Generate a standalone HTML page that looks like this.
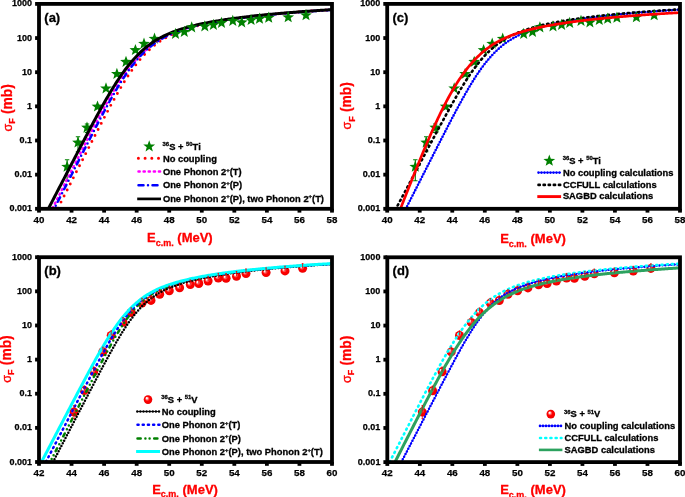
<!DOCTYPE html><html><head><meta charset="utf-8"><style>html,body{margin:0;padding:0;background:#fff;overflow:hidden}svg{display:block}text{font-family:"Liberation Sans",Arial,sans-serif;font-weight:bold}</style></head><body>
<svg width="685" height="497" viewBox="0 0 685 497">
<defs><radialGradient id="rb" cx="0.5" cy="0.5" r="0.5" fx="0.33" fy="0.3" fr="0"><stop offset="0" stop-color="#ffffff"/><stop offset="0.15" stop-color="#fff0f0"/><stop offset="0.35" stop-color="#ff6060"/><stop offset="0.55" stop-color="#ff0000"/><stop offset="0.9" stop-color="#f40000"/><stop offset="1" stop-color="#e40000"/></radialGradient>
<clipPath id="clipa"><rect x="39.0" y="3.9" width="293.0" height="204.9"/></clipPath>
<clipPath id="clipc"><rect x="387.2" y="3.9" width="292.8" height="204.9"/></clipPath>
<clipPath id="clipb"><rect x="39.0" y="257.2" width="293.0" height="204.8"/></clipPath>
<clipPath id="clipd"><rect x="387.3" y="257.3" width="292.7" height="204.8"/></clipPath>
</defs><rect width="685" height="497" fill="#fff"/>
<path d="M67.1,159.7 V180.8 M64.9,159.7 h4.4 M64.9,180.8 h4.4" stroke="#008000" stroke-width="1.1" fill="none"/>
<polygon points="67.10,160.60 68.63,164.69 73.00,164.88 69.58,167.60 70.74,171.82 67.10,169.40 63.46,171.82 64.62,167.60 61.20,164.88 65.57,164.69" fill="#008000"/>
<path d="M78.0,136.7 V151.7 M75.8,136.7 h4.4 M75.8,151.7 h4.4" stroke="#008000" stroke-width="1.1" fill="none"/>
<polygon points="78.00,136.40 79.53,140.49 83.90,140.68 80.48,143.40 81.64,147.62 78.00,145.20 74.36,147.62 75.52,143.40 72.10,140.68 76.47,140.49" fill="#008000"/>
<path d="M87.0,124 V132.5 M84.8,124 h4.4 M84.8,132.5 h4.4" stroke="#008000" stroke-width="1.1" fill="none"/>
<polygon points="87.00,121.50 88.53,125.59 92.90,125.78 89.48,128.50 90.64,132.72 87.00,130.30 83.36,132.72 84.52,128.50 81.10,125.78 85.47,125.59" fill="#008000"/>
<polygon points="97.50,100.40 99.03,104.49 103.40,104.68 99.98,107.40 101.14,111.62 97.50,109.20 93.86,111.62 95.02,107.40 91.60,104.68 95.97,104.49" fill="#008000"/>
<polygon points="106.00,82.30 107.53,86.39 111.90,86.58 108.48,89.30 109.64,93.52 106.00,91.10 102.36,93.52 103.52,89.30 100.10,86.58 104.47,86.39" fill="#008000"/>
<polygon points="116.90,67.80 118.43,71.89 122.80,72.08 119.38,74.80 120.54,79.02 116.90,76.60 113.26,79.02 114.42,74.80 111.00,72.08 115.37,71.89" fill="#008000"/>
<polygon points="126.00,55.70 127.53,59.79 131.90,59.98 128.48,62.70 129.64,66.92 126.00,64.50 122.36,66.92 123.52,62.70 120.10,59.98 124.47,59.79" fill="#008000"/>
<polygon points="135.40,43.90 136.93,47.99 141.30,48.18 137.88,50.90 139.04,55.12 135.40,52.70 131.76,55.12 132.92,50.90 129.50,48.18 133.87,47.99" fill="#008000"/>
<polygon points="144.00,37.60 145.53,41.69 149.90,41.88 146.48,44.60 147.64,48.82 144.00,46.40 140.36,48.82 141.52,44.60 138.10,41.88 142.47,41.69" fill="#008000"/>
<polygon points="154.50,32.60 156.03,36.69 160.40,36.88 156.98,39.60 158.14,43.82 154.50,41.40 150.86,43.82 152.02,39.60 148.60,36.88 152.97,36.69" fill="#008000"/>
<path d="M54.84,214.23 L55.97,212.01 L57.10,209.79 L58.23,207.56 L59.36,205.34 L60.49,203.12 L61.63,200.90 L62.76,198.68 L63.89,196.45 L65.02,194.23 L66.15,192.01 L67.28,189.79 L68.41,187.56 L69.54,185.34 L70.68,183.12 L71.81,180.90 L72.94,178.68 L74.07,176.45 L75.20,174.23 L76.33,172.01 L77.46,169.79 L78.59,167.57 L79.73,165.35 L80.86,163.13 L81.99,160.91 L83.12,158.69 L84.25,156.48 L85.38,154.26 L86.51,152.05 L87.64,149.83 L88.78,147.62 L89.91,145.41 L91.04,143.20 L92.17,140.99 L93.30,138.79 L94.43,136.58 L95.56,134.38 L96.69,132.19 L97.83,130.00 L98.96,127.81 L100.09,125.63 L101.22,123.45 L102.35,121.28 L103.48,119.12 L104.61,116.97 L105.75,114.82 L106.88,112.68 L108.01,110.56 L109.14,108.44 L110.27,106.34 L111.40,104.26 L112.53,102.18 L113.66,100.13 L114.80,98.09 L115.93,96.07 L117.06,94.07 L118.19,92.09 L119.32,90.13 L120.45,88.20 L121.58,86.29 L122.71,84.41 L123.85,82.56 L124.98,80.74 L126.11,78.94 L127.24,77.18 L128.37,75.44 L129.50,73.75 L130.63,72.08 L131.76,70.45 L132.90,68.85 L134.03,67.29 L135.16,65.77 L136.29,64.28 L137.42,62.83 L138.55,61.42 L139.68,60.04 L140.81,58.70 L141.95,57.40 L143.08,56.14 L144.21,54.91 L145.34,53.72 L146.47,52.57 L147.60,51.45 L148.73,50.37 L149.86,49.32 L151.00,48.30 L152.13,47.32 L153.26,46.38 L154.39,45.46 L155.52,44.57 L156.65,43.72 L157.78,42.89 L158.92,42.10 L160.05,41.32 L161.18,40.58 L162.31,39.86 L163.44,39.17 L164.57,38.50 L165.70,37.85 L166.83,37.22 L167.97,36.62 L169.10,36.03 L170.23,35.47 L171.36,34.92 L172.49,34.39 L173.62,33.88 L174.75,33.38 L175.88,32.90 L177.02,32.43 L178.15,31.98 L179.28,31.54 L180.41,31.11 L181.54,30.70 L182.67,30.30 L183.80,29.90 L184.93,29.52 L186.07,29.15 L187.20,28.79 L188.33,28.44 L189.46,28.09 L190.59,27.76 L191.72,27.43 L192.85,27.11 L193.98,26.80 L195.12,26.49 L196.25,26.19 L197.38,25.90 L198.51,25.62 L199.64,25.34 L200.77,25.07 L201.90,24.80 L203.03,24.54 L204.17,24.28 L205.30,24.03 L206.43,23.78 L207.56,23.54 L208.69,23.30 L209.82,23.07 L210.95,22.84 L212.08,22.61 L213.22,22.39 L214.35,22.17 L215.48,21.96 L216.61,21.75 L217.74,21.54 L218.87,21.34 L220.00,21.14 L221.14,20.94 L222.27,20.75 L223.40,20.56 L224.53,20.37 L225.66,20.19 L226.79,20.01 L227.92,19.83 L229.05,19.65 L230.19,19.48 L231.32,19.30 L232.45,19.14 L233.58,18.97 L234.71,18.80 L235.84,18.64 L236.97,18.48 L238.10,18.32 L239.24,18.17 L240.37,18.01 L241.50,17.86 L242.63,17.71 L243.76,17.56 L244.89,17.42 L246.02,17.27 L247.15,17.13 L248.29,16.99 L249.42,16.85 L250.55,16.71 L251.68,16.58 L252.81,16.44 L253.94,16.31 L255.07,16.18 L256.20,16.05 L257.34,15.92 L258.47,15.79 L259.60,15.67 L260.73,15.54 L261.86,15.42 L262.99,15.30 L264.12,15.18 L265.25,15.06 L266.39,14.94 L267.52,14.82 L268.65,14.71 L269.78,14.59 L270.91,14.48 L272.04,14.37 L273.17,14.26 L274.31,14.15 L275.44,14.04 L276.57,13.93 L277.70,13.83 L278.83,13.72 L279.96,13.62 L281.09,13.51 L282.22,13.41 L283.36,13.31 L284.49,13.21 L285.62,13.11 L286.75,13.01 L287.88,12.91 L289.01,12.82 L290.14,12.72 L291.27,12.63 L292.41,12.53 L293.54,12.44 L294.67,12.35 L295.80,12.25 L296.93,12.16 L298.06,12.07 L299.19,11.98 L300.32,11.89 L301.46,11.81 L302.59,11.72 L303.72,11.63 L304.85,11.55 L305.98,11.46 L307.11,11.38 L308.24,11.29 L309.37,11.21 L310.51,11.13 L311.64,11.05 L312.77,10.97 L313.90,10.88 L315.03,10.80 L316.16,10.73 L317.29,10.65 L318.42,10.57 L319.56,10.49 L320.69,10.41 L321.82,10.34 L322.95,10.26 L324.08,10.19 L325.21,10.11 L326.34,10.04 L327.47,9.97 L328.61,9.89 L329.74,9.82 L330.87,9.75 L332.00,9.68" fill="none" stroke="#ff0000" stroke-width="2.9" stroke-linecap="round" stroke-linejoin="round" stroke-dasharray="0 6.8" clip-path="url(#clipa)"/>
<path d="M50.31,212.79 L51.44,210.55 L52.58,208.30 L53.71,206.06 L54.84,203.82 L55.97,201.58 L57.10,199.33 L58.23,197.09 L59.36,194.85 L60.49,192.61 L61.63,190.37 L62.76,188.12 L63.89,185.88 L65.02,183.64 L66.15,181.40 L67.28,179.16 L68.41,176.92 L69.54,174.68 L70.68,172.44 L71.81,170.21 L72.94,167.97 L74.07,165.73 L75.20,163.50 L76.33,161.26 L77.46,159.03 L78.59,156.80 L79.73,154.57 L80.86,152.35 L81.99,150.12 L83.12,147.90 L84.25,145.68 L85.38,143.47 L86.51,141.26 L87.64,139.05 L88.78,136.85 L89.91,134.66 L91.04,132.47 L92.17,130.29 L93.30,128.11 L94.43,125.94 L95.56,123.79 L96.69,121.64 L97.83,119.50 L98.96,117.37 L100.09,115.26 L101.22,113.16 L102.35,111.07 L103.48,109.00 L104.61,106.94 L105.75,104.90 L106.88,102.88 L108.01,100.88 L109.14,98.89 L110.27,96.93 L111.40,94.99 L112.53,93.07 L113.66,91.18 L114.80,89.31 L115.93,87.47 L117.06,85.66 L118.19,83.87 L119.32,82.11 L120.45,80.38 L121.58,78.68 L122.71,77.00 L123.85,75.36 L124.98,73.75 L126.11,72.18 L127.24,70.63 L128.37,69.12 L129.50,67.64 L130.63,66.19 L131.76,64.77 L132.90,63.39 L134.03,62.04 L135.16,60.73 L136.29,59.45 L137.42,58.20 L138.55,56.98 L139.68,55.80 L140.81,54.65 L141.95,53.53 L143.08,52.44 L144.21,51.39 L145.34,50.36 L146.47,49.37 L147.60,48.40 L148.73,47.47 L149.86,46.56 L151.00,45.68 L152.13,44.83 L153.26,44.00 L154.39,43.20 L155.52,42.43 L156.65,41.68 L157.78,40.95 L158.92,40.24 L160.05,39.56 L161.18,38.90 L162.31,38.26 L163.44,37.65 L164.57,37.05 L165.70,36.47 L166.83,35.90 L167.97,35.36 L169.10,34.83 L170.23,34.31 L171.36,33.82 L172.49,33.33 L173.62,32.86 L174.75,32.41 L175.88,31.97 L177.02,31.54 L178.15,31.12 L179.28,30.71 L180.41,30.32 L181.54,29.93 L182.67,29.56 L183.80,29.19 L184.93,28.84 L186.07,28.49 L187.20,28.15 L188.33,27.82 L189.46,27.50 L190.59,27.18 L191.72,26.87 L192.85,26.57 L193.98,26.28 L195.12,25.99 L196.25,25.71 L197.38,25.43 L198.51,25.16 L199.64,24.90 L200.77,24.64 L201.90,24.38 L203.03,24.13 L204.17,23.89 L205.30,23.65 L206.43,23.41 L207.56,23.18 L208.69,22.96 L209.82,22.73 L210.95,22.51 L212.08,22.30 L213.22,22.09 L214.35,21.88 L215.48,21.67 L216.61,21.47 L217.74,21.27 L218.87,21.08 L220.00,20.89 L221.14,20.70 L222.27,20.51 L223.40,20.33 L224.53,20.15 L225.66,19.97 L226.79,19.79 L227.92,19.62 L229.05,19.45 L230.19,19.28 L231.32,19.12 L232.45,18.95 L233.58,18.79 L234.71,18.63 L235.84,18.48 L236.97,18.32 L238.10,18.17 L239.24,18.02 L240.37,17.87 L241.50,17.72 L242.63,17.58 L243.76,17.43 L244.89,17.29 L246.02,17.15 L247.15,17.01 L248.29,16.87 L249.42,16.74 L250.55,16.61 L251.68,16.47 L252.81,16.34 L253.94,16.21 L255.07,16.09 L256.20,15.96 L257.34,15.84 L258.47,15.71 L259.60,15.59 L260.73,15.47 L261.86,15.35 L262.99,15.23 L264.12,15.11 L265.25,15.00 L266.39,14.88 L267.52,14.77 L268.65,14.66 L269.78,14.55 L270.91,14.44 L272.04,14.33 L273.17,14.22 L274.31,14.11 L275.44,14.01 L276.57,13.90 L277.70,13.80 L278.83,13.70 L279.96,13.59 L281.09,13.49 L282.22,13.39 L283.36,13.29 L284.49,13.20 L285.62,13.10 L286.75,13.00 L287.88,12.91 L289.01,12.81 L290.14,12.72 L291.27,12.62 L292.41,12.53 L293.54,12.44 L294.67,12.35 L295.80,12.26 L296.93,12.17 L298.06,12.08 L299.19,12.00 L300.32,11.91 L301.46,11.82 L302.59,11.74 L303.72,11.65 L304.85,11.57 L305.98,11.48 L307.11,11.40 L308.24,11.32 L309.37,11.24 L310.51,11.16 L311.64,11.08 L312.77,11.00 L313.90,10.92 L315.03,10.84 L316.16,10.76 L317.29,10.69 L318.42,10.61 L319.56,10.53 L320.69,10.46 L321.82,10.38 L322.95,10.31 L324.08,10.24 L325.21,10.16 L326.34,10.09 L327.47,10.02 L328.61,9.95 L329.74,9.88 L330.87,9.80 L332.00,9.73" fill="none" stroke="#ff00ff" stroke-width="2.5" stroke-linecap="round" stroke-linejoin="round" stroke-dasharray="1.2 3.9" clip-path="url(#clipa)"/>
<path d="M51.44,214.25 L52.58,212.02 L53.71,209.80 L54.84,207.57 L55.97,205.35 L57.10,203.12 L58.23,200.90 L59.36,198.67 L60.49,196.45 L61.63,194.22 L62.76,192.00 L63.89,189.77 L65.02,187.55 L66.15,185.32 L67.28,183.10 L68.41,180.87 L69.54,178.65 L70.68,176.43 L71.81,174.20 L72.94,171.98 L74.07,169.76 L75.20,167.53 L76.33,165.31 L77.46,163.09 L78.59,160.87 L79.73,158.65 L80.86,156.43 L81.99,154.22 L83.12,152.00 L84.25,149.79 L85.38,147.57 L86.51,145.36 L87.64,143.15 L88.78,140.95 L89.91,138.74 L91.04,136.54 L92.17,134.35 L93.30,132.16 L94.43,129.97 L95.56,127.79 L96.69,125.61 L97.83,123.44 L98.96,121.28 L100.09,119.13 L101.22,116.98 L102.35,114.85 L103.48,112.72 L104.61,110.61 L105.75,108.51 L106.88,106.43 L108.01,104.36 L109.14,102.30 L110.27,100.26 L111.40,98.25 L112.53,96.25 L113.66,94.27 L114.80,92.31 L115.93,90.38 L117.06,88.47 L118.19,86.59 L119.32,84.73 L120.45,82.90 L121.58,81.10 L122.71,79.33 L123.85,77.59 L124.98,75.88 L126.11,74.21 L127.24,72.56 L128.37,70.95 L129.50,69.38 L130.63,67.84 L131.76,66.33 L132.90,64.86 L134.03,63.43 L135.16,62.03 L136.29,60.67 L137.42,59.35 L138.55,58.06 L139.68,56.80 L140.81,55.59 L141.95,54.40 L143.08,53.26 L144.21,52.14 L145.34,51.07 L146.47,50.02 L147.60,49.01 L148.73,48.03 L149.86,47.08 L151.00,46.16 L152.13,45.28 L153.26,44.42 L154.39,43.59 L155.52,42.79 L156.65,42.01 L157.78,41.27 L158.92,40.54 L160.05,39.84 L161.18,39.17 L162.31,38.51 L163.44,37.88 L164.57,37.27 L165.70,36.68 L166.83,36.11 L167.97,35.55 L169.10,35.02 L170.23,34.50 L171.36,33.99 L172.49,33.51 L173.62,33.03 L174.75,32.58 L175.88,32.13 L177.02,31.70 L178.15,31.28 L179.28,30.87 L180.41,30.47 L181.54,30.09 L182.67,29.71 L183.80,29.34 L184.93,28.99 L186.07,28.64 L187.20,28.30 L188.33,27.97 L189.46,27.64 L190.59,27.33 L191.72,27.02 L192.85,26.72 L193.98,26.42 L195.12,26.14 L196.25,25.85 L197.38,25.58 L198.51,25.31 L199.64,25.04 L200.77,24.78 L201.90,24.53 L203.03,24.28 L204.17,24.04 L205.30,23.80 L206.43,23.56 L207.56,23.33 L208.69,23.10 L209.82,22.88 L210.95,22.66 L212.08,22.44 L213.22,22.23 L214.35,22.02 L215.48,21.82 L216.61,21.62 L217.74,21.42 L218.87,21.22 L220.00,21.03 L221.14,20.84 L222.27,20.66 L223.40,20.47 L224.53,20.29 L225.66,20.12 L226.79,19.94 L227.92,19.77 L229.05,19.60 L230.19,19.43 L231.32,19.26 L232.45,19.10 L233.58,18.94 L234.71,18.78 L235.84,18.62 L236.97,18.47 L238.10,18.31 L239.24,18.16 L240.37,18.01 L241.50,17.87 L242.63,17.72 L243.76,17.58 L244.89,17.44 L246.02,17.30 L247.15,17.16 L248.29,17.02 L249.42,16.89 L250.55,16.75 L251.68,16.62 L252.81,16.49 L253.94,16.36 L255.07,16.23 L256.20,16.11 L257.34,15.98 L258.47,15.86 L259.60,15.74 L260.73,15.62 L261.86,15.50 L262.99,15.38 L264.12,15.26 L265.25,15.14 L266.39,15.03 L267.52,14.92 L268.65,14.80 L269.78,14.69 L270.91,14.58 L272.04,14.47 L273.17,14.37 L274.31,14.26 L275.44,14.15 L276.57,14.05 L277.70,13.94 L278.83,13.84 L279.96,13.74 L281.09,13.64 L282.22,13.54 L283.36,13.44 L284.49,13.34 L285.62,13.24 L286.75,13.15 L287.88,13.05 L289.01,12.96 L290.14,12.86 L291.27,12.77 L292.41,12.68 L293.54,12.59 L294.67,12.50 L295.80,12.41 L296.93,12.32 L298.06,12.23 L299.19,12.14 L300.32,12.06 L301.46,11.97 L302.59,11.88 L303.72,11.80 L304.85,11.72 L305.98,11.63 L307.11,11.55 L308.24,11.47 L309.37,11.39 L310.51,11.30 L311.64,11.22 L312.77,11.15 L313.90,11.07 L315.03,10.99 L316.16,10.91 L317.29,10.83 L318.42,10.76 L319.56,10.68 L320.69,10.61 L321.82,10.53 L322.95,10.46 L324.08,10.38 L325.21,10.31 L326.34,10.24 L327.47,10.17 L328.61,10.09 L329.74,10.02 L330.87,9.95 L332.00,9.88" fill="none" stroke="#0000ff" stroke-width="2.5" stroke-linecap="round" stroke-linejoin="round" stroke-dasharray="5 4.5 0 4.5" clip-path="url(#clipa)"/>
<path d="M45.79,213.74 L46.92,211.56 L48.05,209.38 L49.18,207.19 L50.31,205.01 L51.44,202.83 L52.58,200.65 L53.71,198.46 L54.84,196.28 L55.97,194.10 L57.10,191.91 L58.23,189.73 L59.36,187.55 L60.49,185.36 L61.63,183.18 L62.76,181.00 L63.89,178.82 L65.02,176.64 L66.15,174.45 L67.28,172.27 L68.41,170.09 L69.54,167.91 L70.68,165.73 L71.81,163.56 L72.94,161.38 L74.07,159.20 L75.20,157.02 L76.33,154.85 L77.46,152.68 L78.59,150.51 L79.73,148.34 L80.86,146.17 L81.99,144.01 L83.12,141.84 L84.25,139.69 L85.38,137.53 L86.51,135.38 L87.64,133.23 L88.78,131.09 L89.91,128.95 L91.04,126.82 L92.17,124.70 L93.30,122.58 L94.43,120.48 L95.56,118.38 L96.69,116.29 L97.83,114.21 L98.96,112.14 L100.09,110.09 L101.22,108.04 L102.35,106.02 L103.48,104.00 L104.61,102.01 L105.75,100.03 L106.88,98.07 L108.01,96.13 L109.14,94.21 L110.27,92.31 L111.40,90.43 L112.53,88.58 L113.66,86.75 L114.80,84.95 L115.93,83.17 L117.06,81.42 L118.19,79.70 L119.32,78.01 L120.45,76.35 L121.58,74.72 L122.71,73.11 L123.85,71.54 L124.98,70.01 L126.11,68.50 L127.24,67.03 L128.37,65.59 L129.50,64.18 L130.63,62.81 L131.76,61.47 L132.90,60.16 L134.03,58.88 L135.16,57.64 L136.29,56.44 L137.42,55.26 L138.55,54.12 L139.68,53.01 L140.81,51.93 L141.95,50.89 L143.08,49.87 L144.21,48.89 L145.34,47.94 L146.47,47.01 L147.60,46.11 L148.73,45.25 L149.86,44.40 L151.00,43.59 L152.13,42.80 L153.26,42.04 L154.39,41.30 L155.52,40.59 L156.65,39.89 L157.78,39.22 L158.92,38.57 L160.05,37.95 L161.18,37.34 L162.31,36.75 L163.44,36.18 L164.57,35.63 L165.70,35.09 L166.83,34.57 L167.97,34.07 L169.10,33.58 L170.23,33.11 L171.36,32.65 L172.49,32.20 L173.62,31.77 L174.75,31.35 L175.88,30.94 L177.02,30.54 L178.15,30.15 L179.28,29.77 L180.41,29.40 L181.54,29.04 L182.67,28.69 L183.80,28.35 L184.93,28.02 L186.07,27.69 L187.20,27.38 L188.33,27.07 L189.46,26.76 L190.59,26.47 L191.72,26.18 L192.85,25.89 L193.98,25.62 L195.12,25.34 L196.25,25.08 L197.38,24.82 L198.51,24.56 L199.64,24.31 L200.77,24.06 L201.90,23.82 L203.03,23.59 L204.17,23.35 L205.30,23.12 L206.43,22.90 L207.56,22.68 L208.69,22.46 L209.82,22.25 L210.95,22.04 L212.08,21.84 L213.22,21.63 L214.35,21.43 L215.48,21.24 L216.61,21.05 L217.74,20.86 L218.87,20.67 L220.00,20.48 L221.14,20.30 L222.27,20.12 L223.40,19.95 L224.53,19.78 L225.66,19.60 L226.79,19.44 L227.92,19.27 L229.05,19.10 L230.19,18.94 L231.32,18.78 L232.45,18.63 L233.58,18.47 L234.71,18.32 L235.84,18.17 L236.97,18.02 L238.10,17.87 L239.24,17.72 L240.37,17.58 L241.50,17.44 L242.63,17.30 L243.76,17.16 L244.89,17.02 L246.02,16.88 L247.15,16.75 L248.29,16.62 L249.42,16.49 L250.55,16.36 L251.68,16.23 L252.81,16.10 L253.94,15.98 L255.07,15.85 L256.20,15.73 L257.34,15.61 L258.47,15.49 L259.60,15.37 L260.73,15.25 L261.86,15.14 L262.99,15.02 L264.12,14.91 L265.25,14.80 L266.39,14.68 L267.52,14.57 L268.65,14.47 L269.78,14.36 L270.91,14.25 L272.04,14.14 L273.17,14.04 L274.31,13.93 L275.44,13.83 L276.57,13.73 L277.70,13.63 L278.83,13.53 L279.96,13.43 L281.09,13.33 L282.22,13.23 L283.36,13.14 L284.49,13.04 L285.62,12.95 L286.75,12.85 L287.88,12.76 L289.01,12.67 L290.14,12.57 L291.27,12.48 L292.41,12.39 L293.54,12.30 L294.67,12.22 L295.80,12.13 L296.93,12.04 L298.06,11.95 L299.19,11.87 L300.32,11.78 L301.46,11.70 L302.59,11.62 L303.72,11.53 L304.85,11.45 L305.98,11.37 L307.11,11.29 L308.24,11.21 L309.37,11.13 L310.51,11.05 L311.64,10.97 L312.77,10.89 L313.90,10.82 L315.03,10.74 L316.16,10.66 L317.29,10.59 L318.42,10.51 L319.56,10.44 L320.69,10.37 L321.82,10.29 L322.95,10.22 L324.08,10.15 L325.21,10.08 L326.34,10.00 L327.47,9.93 L328.61,9.86 L329.74,9.79 L330.87,9.73 L332.00,9.66" fill="none" stroke="#000000" stroke-width="3.0" stroke-linecap="butt" stroke-linejoin="round" clip-path="url(#clipa)"/>
<polygon points="175.50,27.80 177.03,31.89 181.40,32.08 177.98,34.80 179.14,39.02 175.50,36.60 171.86,39.02 173.02,34.80 169.60,32.08 173.97,31.89" fill="#008000"/>
<polygon points="184.30,25.80 185.83,29.89 190.20,30.08 186.78,32.80 187.94,37.02 184.30,34.60 180.66,37.02 181.82,32.80 178.40,30.08 182.77,29.89" fill="#008000"/>
<polygon points="191.70,21.20 193.23,25.29 197.60,25.48 194.18,28.20 195.34,32.42 191.70,30.00 188.06,32.42 189.22,28.20 185.80,25.48 190.17,25.29" fill="#008000"/>
<polygon points="204.80,20.20 206.33,24.29 210.70,24.48 207.28,27.20 208.44,31.42 204.80,29.00 201.16,31.42 202.32,27.20 198.90,24.48 203.27,24.29" fill="#008000"/>
<polygon points="213.40,18.70 214.93,22.79 219.30,22.98 215.88,25.70 217.04,29.92 213.40,27.50 209.76,29.92 210.92,25.70 207.50,22.98 211.87,22.79" fill="#008000"/>
<polygon points="221.50,16.70 223.03,20.79 227.40,20.98 223.98,23.70 225.14,27.92 221.50,25.50 217.86,27.92 219.02,23.70 215.60,20.98 219.97,20.79" fill="#008000"/>
<polygon points="232.80,14.70 234.33,18.79 238.70,18.98 235.28,21.70 236.44,25.92 232.80,23.50 229.16,25.92 230.32,21.70 226.90,18.98 231.27,18.79" fill="#008000"/>
<polygon points="241.70,16.20 243.23,20.29 247.60,20.48 244.18,23.20 245.34,27.42 241.70,25.00 238.06,27.42 239.22,23.20 235.80,20.48 240.17,20.29" fill="#008000"/>
<polygon points="251.10,13.90 252.63,17.99 257.00,18.18 253.58,20.90 254.74,25.12 251.10,22.70 247.46,25.12 248.62,20.90 245.20,18.18 249.57,17.99" fill="#008000"/>
<polygon points="259.50,12.60 261.03,16.69 265.40,16.88 261.98,19.60 263.14,23.82 259.50,21.40 255.86,23.82 257.02,19.60 253.60,16.88 257.97,16.69" fill="#008000"/>
<polygon points="268.70,11.60 270.23,15.69 274.60,15.88 271.18,18.60 272.34,22.82 268.70,20.40 265.06,22.82 266.22,18.60 262.80,15.88 267.17,15.69" fill="#008000"/>
<polygon points="288.20,11.10 289.73,15.19 294.10,15.38 290.68,18.10 291.84,22.32 288.20,19.90 284.56,22.32 285.72,18.10 282.30,15.38 286.67,15.19" fill="#008000"/>
<polygon points="306.00,9.10 307.53,13.19 311.90,13.38 308.48,16.10 309.64,20.32 306.00,17.90 302.36,20.32 303.52,16.10 300.10,13.38 304.47,13.19" fill="#008000"/>
<path d="M415.3,159.7 V180.8 M413.1,159.7 h4.4 M413.1,180.8 h4.4" stroke="#008000" stroke-width="1.1" fill="none"/>
<polygon points="415.30,160.60 416.83,164.69 421.20,164.88 417.78,167.60 418.94,171.82 415.30,169.40 411.66,171.82 412.82,167.60 409.40,164.88 413.77,164.69" fill="#008000"/>
<path d="M426.2,136.7 V151.7 M424.0,136.7 h4.4 M424.0,151.7 h4.4" stroke="#008000" stroke-width="1.1" fill="none"/>
<polygon points="426.20,136.40 427.73,140.49 432.10,140.68 428.68,143.40 429.84,147.62 426.20,145.20 422.56,147.62 423.72,143.40 420.30,140.68 424.67,140.49" fill="#008000"/>
<path d="M435.2,124 V132.5 M433.0,124 h4.4 M433.0,132.5 h4.4" stroke="#008000" stroke-width="1.1" fill="none"/>
<polygon points="435.20,121.50 436.73,125.59 441.10,125.78 437.68,128.50 438.84,132.72 435.20,130.30 431.56,132.72 432.72,128.50 429.30,125.78 433.67,125.59" fill="#008000"/>
<polygon points="445.70,100.40 447.23,104.49 451.60,104.68 448.18,107.40 449.34,111.62 445.70,109.20 442.06,111.62 443.22,107.40 439.80,104.68 444.17,104.49" fill="#008000"/>
<polygon points="454.20,82.30 455.73,86.39 460.10,86.58 456.68,89.30 457.84,93.52 454.20,91.10 450.56,93.52 451.72,89.30 448.30,86.58 452.67,86.39" fill="#008000"/>
<polygon points="465.10,67.80 466.63,71.89 471.00,72.08 467.58,74.80 468.74,79.02 465.10,76.60 461.46,79.02 462.62,74.80 459.20,72.08 463.57,71.89" fill="#008000"/>
<polygon points="474.20,55.70 475.73,59.79 480.10,59.98 476.68,62.70 477.84,66.92 474.20,64.50 470.56,66.92 471.72,62.70 468.30,59.98 472.67,59.79" fill="#008000"/>
<polygon points="483.60,43.90 485.13,47.99 489.50,48.18 486.08,50.90 487.24,55.12 483.60,52.70 479.96,55.12 481.12,50.90 477.70,48.18 482.07,47.99" fill="#008000"/>
<polygon points="492.20,37.60 493.73,41.69 498.10,41.88 494.68,44.60 495.84,48.82 492.20,46.40 488.56,48.82 489.72,44.60 486.30,41.88 490.67,41.69" fill="#008000"/>
<polygon points="502.70,32.60 504.23,36.69 508.60,36.88 505.18,39.60 506.34,43.82 502.70,41.40 499.06,43.82 500.22,39.60 496.80,36.88 501.17,36.69" fill="#008000"/>
<path d="M403.03,214.23 L404.16,212.01 L405.29,209.79 L406.42,207.56 L407.55,205.34 L408.68,203.12 L409.81,200.90 L410.94,198.68 L412.07,196.45 L413.20,194.23 L414.33,192.01 L415.46,189.79 L416.59,187.56 L417.72,185.34 L418.85,183.12 L419.98,180.90 L421.12,178.68 L422.25,176.45 L423.38,174.23 L424.51,172.01 L425.64,169.79 L426.77,167.57 L427.90,165.35 L429.03,163.13 L430.16,160.91 L431.29,158.69 L432.42,156.48 L433.55,154.26 L434.68,152.05 L435.81,149.83 L436.94,147.62 L438.07,145.41 L439.20,143.20 L440.33,140.99 L441.46,138.79 L442.59,136.58 L443.73,134.38 L444.86,132.19 L445.99,130.00 L447.12,127.81 L448.25,125.63 L449.38,123.45 L450.51,121.28 L451.64,119.12 L452.77,116.97 L453.90,114.82 L455.03,112.68 L456.16,110.56 L457.29,108.44 L458.42,106.34 L459.55,104.26 L460.68,102.18 L461.81,100.13 L462.94,98.09 L464.07,96.07 L465.20,94.07 L466.34,92.09 L467.47,90.13 L468.60,88.20 L469.73,86.29 L470.86,84.41 L471.99,82.56 L473.12,80.74 L474.25,78.94 L475.38,77.18 L476.51,75.44 L477.64,73.75 L478.77,72.08 L479.90,70.45 L481.03,68.85 L482.16,67.29 L483.29,65.77 L484.42,64.28 L485.55,62.83 L486.68,61.42 L487.81,60.04 L488.95,58.70 L490.08,57.40 L491.21,56.14 L492.34,54.91 L493.47,53.72 L494.60,52.57 L495.73,51.45 L496.86,50.37 L497.99,49.32 L499.12,48.30 L500.25,47.32 L501.38,46.38 L502.51,45.46 L503.64,44.57 L504.77,43.72 L505.90,42.89 L507.03,42.10 L508.16,41.32 L509.29,40.58 L510.42,39.86 L511.56,39.17 L512.69,38.50 L513.82,37.85 L514.95,37.22 L516.08,36.62 L517.21,36.03 L518.34,35.47 L519.47,34.92 L520.60,34.39 L521.73,33.88 L522.86,33.38 L523.99,32.90 L525.12,32.43 L526.25,31.98 L527.38,31.54 L528.51,31.11 L529.64,30.70 L530.77,30.30 L531.90,29.90 L533.03,29.52 L534.17,29.15 L535.30,28.79 L536.43,28.44 L537.56,28.09 L538.69,27.76 L539.82,27.43 L540.95,27.11 L542.08,26.80 L543.21,26.49 L544.34,26.19 L545.47,25.90 L546.60,25.62 L547.73,25.34 L548.86,25.07 L549.99,24.80 L551.12,24.54 L552.25,24.28 L553.38,24.03 L554.51,23.78 L555.64,23.54 L556.78,23.30 L557.91,23.07 L559.04,22.84 L560.17,22.61 L561.30,22.39 L562.43,22.17 L563.56,21.96 L564.69,21.75 L565.82,21.54 L566.95,21.34 L568.08,21.14 L569.21,20.94 L570.34,20.75 L571.47,20.56 L572.60,20.37 L573.73,20.19 L574.86,20.01 L575.99,19.83 L577.12,19.65 L578.25,19.48 L579.39,19.30 L580.52,19.14 L581.65,18.97 L582.78,18.80 L583.91,18.64 L585.04,18.48 L586.17,18.32 L587.30,18.17 L588.43,18.01 L589.56,17.86 L590.69,17.71 L591.82,17.56 L592.95,17.42 L594.08,17.27 L595.21,17.13 L596.34,16.99 L597.47,16.85 L598.60,16.71 L599.73,16.58 L600.86,16.44 L602.00,16.31 L603.13,16.18 L604.26,16.05 L605.39,15.92 L606.52,15.79 L607.65,15.67 L608.78,15.54 L609.91,15.42 L611.04,15.30 L612.17,15.18 L613.30,15.06 L614.43,14.94 L615.56,14.82 L616.69,14.71 L617.82,14.59 L618.95,14.48 L620.08,14.37 L621.21,14.26 L622.34,14.15 L623.47,14.04 L624.61,13.93 L625.74,13.83 L626.87,13.72 L628.00,13.62 L629.13,13.51 L630.26,13.41 L631.39,13.31 L632.52,13.21 L633.65,13.11 L634.78,13.01 L635.91,12.91 L637.04,12.82 L638.17,12.72 L639.30,12.63 L640.43,12.53 L641.56,12.44 L642.69,12.35 L643.82,12.25 L644.95,12.16 L646.08,12.07 L647.22,11.98 L648.35,11.89 L649.48,11.81 L650.61,11.72 L651.74,11.63 L652.87,11.55 L654.00,11.46 L655.13,11.38 L656.26,11.29 L657.39,11.21 L658.52,11.13 L659.65,11.05 L660.78,10.97 L661.91,10.88 L663.04,10.80 L664.17,10.73 L665.30,10.65 L666.43,10.57 L667.56,10.49 L668.69,10.41 L669.83,10.34 L670.96,10.26 L672.09,10.19 L673.22,10.11 L674.35,10.04 L675.48,9.97 L676.61,9.89 L677.74,9.82 L678.87,9.75 L680.00,9.68" fill="none" stroke="#0000ff" stroke-width="0.9" clip-path="url(#clipc)"/>
<path d="M403.03,214.23 L404.16,212.01 L405.29,209.79 L406.42,207.56 L407.55,205.34 L408.68,203.12 L409.81,200.90 L410.94,198.68 L412.07,196.45 L413.20,194.23 L414.33,192.01 L415.46,189.79 L416.59,187.56 L417.72,185.34 L418.85,183.12 L419.98,180.90 L421.12,178.68 L422.25,176.45 L423.38,174.23 L424.51,172.01 L425.64,169.79 L426.77,167.57 L427.90,165.35 L429.03,163.13 L430.16,160.91 L431.29,158.69 L432.42,156.48 L433.55,154.26 L434.68,152.05 L435.81,149.83 L436.94,147.62 L438.07,145.41 L439.20,143.20 L440.33,140.99 L441.46,138.79 L442.59,136.58 L443.73,134.38 L444.86,132.19 L445.99,130.00 L447.12,127.81 L448.25,125.63 L449.38,123.45 L450.51,121.28 L451.64,119.12 L452.77,116.97 L453.90,114.82 L455.03,112.68 L456.16,110.56 L457.29,108.44 L458.42,106.34 L459.55,104.26 L460.68,102.18 L461.81,100.13 L462.94,98.09 L464.07,96.07 L465.20,94.07 L466.34,92.09 L467.47,90.13 L468.60,88.20 L469.73,86.29 L470.86,84.41 L471.99,82.56 L473.12,80.74 L474.25,78.94 L475.38,77.18 L476.51,75.44 L477.64,73.75 L478.77,72.08 L479.90,70.45 L481.03,68.85 L482.16,67.29 L483.29,65.77 L484.42,64.28 L485.55,62.83 L486.68,61.42 L487.81,60.04 L488.95,58.70 L490.08,57.40 L491.21,56.14 L492.34,54.91 L493.47,53.72 L494.60,52.57 L495.73,51.45 L496.86,50.37 L497.99,49.32 L499.12,48.30 L500.25,47.32 L501.38,46.38 L502.51,45.46 L503.64,44.57 L504.77,43.72 L505.90,42.89 L507.03,42.10 L508.16,41.32 L509.29,40.58 L510.42,39.86 L511.56,39.17 L512.69,38.50 L513.82,37.85 L514.95,37.22 L516.08,36.62 L517.21,36.03 L518.34,35.47 L519.47,34.92 L520.60,34.39 L521.73,33.88 L522.86,33.38 L523.99,32.90 L525.12,32.43 L526.25,31.98 L527.38,31.54 L528.51,31.11 L529.64,30.70 L530.77,30.30 L531.90,29.90 L533.03,29.52 L534.17,29.15 L535.30,28.79 L536.43,28.44 L537.56,28.09 L538.69,27.76 L539.82,27.43 L540.95,27.11 L542.08,26.80 L543.21,26.49 L544.34,26.19 L545.47,25.90 L546.60,25.62 L547.73,25.34 L548.86,25.07 L549.99,24.80 L551.12,24.54 L552.25,24.28 L553.38,24.03 L554.51,23.78 L555.64,23.54 L556.78,23.30 L557.91,23.07 L559.04,22.84 L560.17,22.61 L561.30,22.39 L562.43,22.17 L563.56,21.96 L564.69,21.75 L565.82,21.54 L566.95,21.34 L568.08,21.14 L569.21,20.94 L570.34,20.75 L571.47,20.56 L572.60,20.37 L573.73,20.19 L574.86,20.01 L575.99,19.83 L577.12,19.65 L578.25,19.48 L579.39,19.30 L580.52,19.14 L581.65,18.97 L582.78,18.80 L583.91,18.64 L585.04,18.48 L586.17,18.32 L587.30,18.17 L588.43,18.01 L589.56,17.86 L590.69,17.71 L591.82,17.56 L592.95,17.42 L594.08,17.27 L595.21,17.13 L596.34,16.99 L597.47,16.85 L598.60,16.71 L599.73,16.58 L600.86,16.44 L602.00,16.31 L603.13,16.18 L604.26,16.05 L605.39,15.92 L606.52,15.79 L607.65,15.67 L608.78,15.54 L609.91,15.42 L611.04,15.30 L612.17,15.18 L613.30,15.06 L614.43,14.94 L615.56,14.82 L616.69,14.71 L617.82,14.59 L618.95,14.48 L620.08,14.37 L621.21,14.26 L622.34,14.15 L623.47,14.04 L624.61,13.93 L625.74,13.83 L626.87,13.72 L628.00,13.62 L629.13,13.51 L630.26,13.41 L631.39,13.31 L632.52,13.21 L633.65,13.11 L634.78,13.01 L635.91,12.91 L637.04,12.82 L638.17,12.72 L639.30,12.63 L640.43,12.53 L641.56,12.44 L642.69,12.35 L643.82,12.25 L644.95,12.16 L646.08,12.07 L647.22,11.98 L648.35,11.89 L649.48,11.81 L650.61,11.72 L651.74,11.63 L652.87,11.55 L654.00,11.46 L655.13,11.38 L656.26,11.29 L657.39,11.21 L658.52,11.13 L659.65,11.05 L660.78,10.97 L661.91,10.88 L663.04,10.80 L664.17,10.73 L665.30,10.65 L666.43,10.57 L667.56,10.49 L668.69,10.41 L669.83,10.34 L670.96,10.26 L672.09,10.19 L673.22,10.11 L674.35,10.04 L675.48,9.97 L676.61,9.89 L677.74,9.82 L678.87,9.75 L680.00,9.68" fill="none" stroke="#0000ff" stroke-width="2.6" stroke-linecap="round" stroke-linejoin="round" stroke-dasharray="0 3.0" clip-path="url(#clipc)"/>
<path d="M392.85,214.52 L393.98,212.39 L395.11,210.26 L396.24,208.13 L397.37,206.00 L398.51,203.87 L399.64,201.75 L400.77,199.62 L401.90,197.49 L403.03,195.36 L404.16,193.23 L405.29,191.10 L406.42,188.97 L407.55,186.84 L408.68,184.71 L409.81,182.59 L410.94,180.46 L412.07,178.33 L413.20,176.20 L414.33,174.07 L415.46,171.94 L416.59,169.82 L417.72,167.69 L418.85,165.56 L419.98,163.43 L421.12,161.31 L422.25,159.18 L423.38,157.06 L424.51,154.93 L425.64,152.81 L426.77,150.68 L427.90,148.56 L429.03,146.44 L430.16,144.32 L431.29,142.20 L432.42,140.09 L433.55,137.97 L434.68,135.86 L435.81,133.75 L436.94,131.64 L438.07,129.54 L439.20,127.44 L440.33,125.34 L441.46,123.25 L442.59,121.16 L443.73,119.08 L444.86,117.01 L445.99,114.94 L447.12,112.88 L448.25,110.83 L449.38,108.79 L450.51,106.76 L451.64,104.74 L452.77,102.73 L453.90,100.74 L455.03,98.76 L456.16,96.80 L457.29,94.85 L458.42,92.93 L459.55,91.02 L460.68,89.13 L461.81,87.26 L462.94,85.42 L464.07,83.60 L465.20,81.81 L466.34,80.04 L467.47,78.30 L468.60,76.59 L469.73,74.91 L470.86,73.26 L471.99,71.64 L473.12,70.05 L474.25,68.50 L475.38,66.98 L476.51,65.49 L477.64,64.04 L478.77,62.62 L479.90,61.23 L481.03,59.89 L482.16,58.57 L483.29,57.30 L484.42,56.06 L485.55,54.85 L486.68,53.68 L487.81,52.54 L488.95,51.44 L490.08,50.37 L491.21,49.34 L492.34,48.33 L493.47,47.36 L494.60,46.43 L495.73,45.52 L496.86,44.64 L497.99,43.79 L499.12,42.97 L500.25,42.18 L501.38,41.41 L502.51,40.67 L503.64,39.96 L504.77,39.26 L505.90,38.60 L507.03,37.95 L508.16,37.32 L509.29,36.72 L510.42,36.14 L511.56,35.57 L512.69,35.02 L513.82,34.49 L514.95,33.98 L516.08,33.48 L517.21,33.00 L518.34,32.53 L519.47,32.08 L520.60,31.64 L521.73,31.21 L522.86,30.79 L523.99,30.39 L525.12,30.00 L526.25,29.61 L527.38,29.24 L528.51,28.88 L529.64,28.52 L530.77,28.18 L531.90,27.84 L533.03,27.51 L534.17,27.19 L535.30,26.88 L536.43,26.57 L537.56,26.28 L538.69,25.98 L539.82,25.70 L540.95,25.42 L542.08,25.14 L543.21,24.88 L544.34,24.61 L545.47,24.35 L546.60,24.10 L547.73,23.85 L548.86,23.61 L549.99,23.37 L551.12,23.14 L552.25,22.91 L553.38,22.68 L554.51,22.46 L555.64,22.24 L556.78,22.03 L557.91,21.82 L559.04,21.61 L560.17,21.41 L561.30,21.21 L562.43,21.01 L563.56,20.82 L564.69,20.63 L565.82,20.44 L566.95,20.25 L568.08,20.07 L569.21,19.89 L570.34,19.71 L571.47,19.54 L572.60,19.37 L573.73,19.20 L574.86,19.03 L575.99,18.87 L577.12,18.70 L578.25,18.54 L579.39,18.39 L580.52,18.23 L581.65,18.07 L582.78,17.92 L583.91,17.77 L585.04,17.62 L586.17,17.48 L587.30,17.33 L588.43,17.19 L589.56,17.05 L590.69,16.91 L591.82,16.77 L592.95,16.64 L594.08,16.50 L595.21,16.37 L596.34,16.24 L597.47,16.11 L598.60,15.98 L599.73,15.85 L600.86,15.72 L602.00,15.60 L603.13,15.48 L604.26,15.36 L605.39,15.24 L606.52,15.12 L607.65,15.00 L608.78,14.88 L609.91,14.77 L611.04,14.65 L612.17,14.54 L613.30,14.43 L614.43,14.32 L615.56,14.21 L616.69,14.10 L617.82,13.99 L618.95,13.89 L620.08,13.78 L621.21,13.68 L622.34,13.57 L623.47,13.47 L624.61,13.37 L625.74,13.27 L626.87,13.17 L628.00,13.07 L629.13,12.97 L630.26,12.87 L631.39,12.78 L632.52,12.68 L633.65,12.59 L634.78,12.50 L635.91,12.40 L637.04,12.31 L638.17,12.22 L639.30,12.13 L640.43,12.04 L641.56,11.95 L642.69,11.86 L643.82,11.78 L644.95,11.69 L646.08,11.60 L647.22,11.52 L648.35,11.43 L649.48,11.35 L650.61,11.27 L651.74,11.18 L652.87,11.10 L654.00,11.02 L655.13,10.94 L656.26,10.86 L657.39,10.78 L658.52,10.70 L659.65,10.63 L660.78,10.55 L661.91,10.47 L663.04,10.40 L664.17,10.32 L665.30,10.24 L666.43,10.17 L667.56,10.10 L668.69,10.02 L669.83,9.95 L670.96,9.88 L672.09,9.81 L673.22,9.73 L674.35,9.66 L675.48,9.59 L676.61,9.52 L677.74,9.45 L678.87,9.39 L680.00,9.32" fill="none" stroke="#000000" stroke-width="2.6" stroke-linecap="round" stroke-linejoin="round" stroke-dasharray="1.3 3.8" clip-path="url(#clipc)"/>
<polygon points="523.70,27.80 525.23,31.89 529.60,32.08 526.18,34.80 527.34,39.02 523.70,36.60 520.06,39.02 521.22,34.80 517.80,32.08 522.17,31.89" fill="#008000"/>
<polygon points="532.50,25.80 534.03,29.89 538.40,30.08 534.98,32.80 536.14,37.02 532.50,34.60 528.86,37.02 530.02,32.80 526.60,30.08 530.97,29.89" fill="#008000"/>
<polygon points="539.90,21.20 541.43,25.29 545.80,25.48 542.38,28.20 543.54,32.42 539.90,30.00 536.26,32.42 537.42,28.20 534.00,25.48 538.37,25.29" fill="#008000"/>
<polygon points="553.00,20.20 554.53,24.29 558.90,24.48 555.48,27.20 556.64,31.42 553.00,29.00 549.36,31.42 550.52,27.20 547.10,24.48 551.47,24.29" fill="#008000"/>
<polygon points="561.60,18.70 563.13,22.79 567.50,22.98 564.08,25.70 565.24,29.92 561.60,27.50 557.96,29.92 559.12,25.70 555.70,22.98 560.07,22.79" fill="#008000"/>
<polygon points="569.70,16.70 571.23,20.79 575.60,20.98 572.18,23.70 573.34,27.92 569.70,25.50 566.06,27.92 567.22,23.70 563.80,20.98 568.17,20.79" fill="#008000"/>
<polygon points="581.00,14.70 582.53,18.79 586.90,18.98 583.48,21.70 584.64,25.92 581.00,23.50 577.36,25.92 578.52,21.70 575.10,18.98 579.47,18.79" fill="#008000"/>
<polygon points="589.90,16.20 591.43,20.29 595.80,20.48 592.38,23.20 593.54,27.42 589.90,25.00 586.26,27.42 587.42,23.20 584.00,20.48 588.37,20.29" fill="#008000"/>
<polygon points="599.30,13.90 600.83,17.99 605.20,18.18 601.78,20.90 602.94,25.12 599.30,22.70 595.66,25.12 596.82,20.90 593.40,18.18 597.77,17.99" fill="#008000"/>
<polygon points="607.70,12.60 609.23,16.69 613.60,16.88 610.18,19.60 611.34,23.82 607.70,21.40 604.06,23.82 605.22,19.60 601.80,16.88 606.17,16.69" fill="#008000"/>
<polygon points="616.90,11.60 618.43,15.69 622.80,15.88 619.38,18.60 620.54,22.82 616.90,20.40 613.26,22.82 614.42,18.60 611.00,15.88 615.37,15.69" fill="#008000"/>
<polygon points="636.40,11.10 637.93,15.19 642.30,15.38 638.88,18.10 640.04,22.32 636.40,19.90 632.76,22.32 633.92,18.10 630.50,15.38 634.87,15.19" fill="#008000"/>
<polygon points="654.20,9.10 655.73,13.19 660.10,13.38 656.68,16.10 657.84,20.32 654.20,17.90 650.56,20.32 651.72,16.10 648.30,13.38 652.67,13.19" fill="#008000"/>
<path d="M398.51,213.80 L399.64,210.91 L400.77,208.02 L401.90,205.13 L403.03,202.25 L404.16,199.36 L405.29,196.49 L406.42,193.61 L407.55,190.75 L408.68,187.88 L409.81,185.03 L410.94,182.18 L412.07,179.33 L413.20,176.50 L414.33,173.67 L415.46,170.86 L416.59,168.06 L417.72,165.26 L418.85,162.48 L419.98,159.72 L421.12,156.97 L422.25,154.23 L423.38,151.51 L424.51,148.81 L425.64,146.13 L426.77,143.47 L427.90,140.83 L429.03,138.21 L430.16,135.61 L431.29,133.04 L432.42,130.49 L433.55,127.97 L434.68,125.48 L435.81,123.02 L436.94,120.58 L438.07,118.18 L439.20,115.80 L440.33,113.46 L441.46,111.15 L442.59,108.87 L443.73,106.63 L444.86,104.42 L445.99,102.25 L447.12,100.11 L448.25,98.01 L449.38,95.95 L450.51,93.93 L451.64,91.94 L452.77,89.99 L453.90,88.08 L455.03,86.20 L456.16,84.37 L457.29,82.57 L458.42,80.81 L459.55,79.10 L460.68,77.42 L461.81,75.78 L462.94,74.18 L464.07,72.61 L465.20,71.09 L466.34,69.60 L467.47,68.16 L468.60,66.74 L469.73,65.37 L470.86,64.04 L471.99,62.74 L473.12,61.47 L474.25,60.24 L475.38,59.05 L476.51,57.89 L477.64,56.77 L478.77,55.68 L479.90,54.62 L481.03,53.59 L482.16,52.60 L483.29,51.64 L484.42,50.70 L485.55,49.80 L486.68,48.92 L487.81,48.07 L488.95,47.25 L490.08,46.46 L491.21,45.69 L492.34,44.94 L493.47,44.22 L494.60,43.52 L495.73,42.85 L496.86,42.19 L497.99,41.56 L499.12,40.95 L500.25,40.35 L501.38,39.78 L502.51,39.22 L503.64,38.68 L504.77,38.16 L505.90,37.65 L507.03,37.16 L508.16,36.68 L509.29,36.22 L510.42,35.77 L511.56,35.33 L512.69,34.91 L513.82,34.50 L514.95,34.09 L516.08,33.70 L517.21,33.32 L518.34,32.95 L519.47,32.59 L520.60,32.24 L521.73,31.90 L522.86,31.56 L523.99,31.24 L525.12,30.92 L526.25,30.61 L527.38,30.30 L528.51,30.01 L529.64,29.72 L530.77,29.43 L531.90,29.15 L533.03,28.88 L534.17,28.62 L535.30,28.35 L536.43,28.10 L537.56,27.85 L538.69,27.60 L539.82,27.36 L540.95,27.12 L542.08,26.89 L543.21,26.66 L544.34,26.44 L545.47,26.22 L546.60,26.00 L547.73,25.79 L548.86,25.58 L549.99,25.37 L551.12,25.17 L552.25,24.97 L553.38,24.77 L554.51,24.58 L555.64,24.39 L556.78,24.20 L557.91,24.02 L559.04,23.84 L560.17,23.66 L561.30,23.48 L562.43,23.31 L563.56,23.14 L564.69,22.97 L565.82,22.80 L566.95,22.64 L568.08,22.48 L569.21,22.32 L570.34,22.16 L571.47,22.01 L572.60,21.85 L573.73,21.70 L574.86,21.55 L575.99,21.40 L577.12,21.26 L578.25,21.11 L579.39,20.97 L580.52,20.83 L581.65,20.69 L582.78,20.55 L583.91,20.42 L585.04,20.29 L586.17,20.15 L587.30,20.02 L588.43,19.89 L589.56,19.76 L590.69,19.64 L591.82,19.51 L592.95,19.39 L594.08,19.27 L595.21,19.15 L596.34,19.03 L597.47,18.91 L598.60,18.79 L599.73,18.67 L600.86,18.56 L602.00,18.45 L603.13,18.33 L604.26,18.22 L605.39,18.11 L606.52,18.00 L607.65,17.89 L608.78,17.79 L609.91,17.68 L611.04,17.58 L612.17,17.47 L613.30,17.37 L614.43,17.27 L615.56,17.17 L616.69,17.07 L617.82,16.97 L618.95,16.87 L620.08,16.77 L621.21,16.68 L622.34,16.58 L623.47,16.49 L624.61,16.39 L625.74,16.30 L626.87,16.21 L628.00,16.11 L629.13,16.02 L630.26,15.93 L631.39,15.85 L632.52,15.76 L633.65,15.67 L634.78,15.58 L635.91,15.50 L637.04,15.41 L638.17,15.33 L639.30,15.24 L640.43,15.16 L641.56,15.08 L642.69,14.99 L643.82,14.91 L644.95,14.83 L646.08,14.75 L647.22,14.67 L648.35,14.59 L649.48,14.51 L650.61,14.44 L651.74,14.36 L652.87,14.28 L654.00,14.21 L655.13,14.13 L656.26,14.06 L657.39,13.98 L658.52,13.91 L659.65,13.84 L660.78,13.76 L661.91,13.69 L663.04,13.62 L664.17,13.55 L665.30,13.48 L666.43,13.41 L667.56,13.34 L668.69,13.27 L669.83,13.20 L670.96,13.13 L672.09,13.07 L673.22,13.00 L674.35,12.93 L675.48,12.87 L676.61,12.80 L677.74,12.74 L678.87,12.67 L680.00,12.61" fill="none" stroke="#ff0000" stroke-width="2.7" stroke-linecap="butt" stroke-linejoin="round" clip-path="url(#clipc)"/>
<circle cx="74.00" cy="412.00" r="4.5" fill="url(#rb)"/>
<circle cx="84.30" cy="390.60" r="4.5" fill="url(#rb)"/>
<circle cx="93.80" cy="371.60" r="4.5" fill="url(#rb)"/>
<circle cx="102.90" cy="351.80" r="4.5" fill="url(#rb)"/>
<circle cx="111.20" cy="335.40" r="4.5" fill="url(#rb)"/>
<circle cx="123.00" cy="322.30" r="4.5" fill="url(#rb)"/>
<circle cx="131.20" cy="312.50" r="4.5" fill="url(#rb)"/>
<circle cx="142.00" cy="303.00" r="4.5" fill="url(#rb)"/>
<circle cx="151.00" cy="300.40" r="4.5" fill="url(#rb)"/>
<circle cx="159.70" cy="294.20" r="4.5" fill="url(#rb)"/>
<circle cx="169.30" cy="290.70" r="4.5" fill="url(#rb)"/>
<circle cx="179.60" cy="287.80" r="4.5" fill="url(#rb)"/>
<circle cx="190.30" cy="284.60" r="4.5" fill="url(#rb)"/>
<circle cx="198.80" cy="283.50" r="4.5" fill="url(#rb)"/>
<circle cx="208.10" cy="281.00" r="4.5" fill="url(#rb)"/>
<circle cx="218.30" cy="278.00" r="4.5" fill="url(#rb)"/>
<circle cx="226.10" cy="278.20" r="4.5" fill="url(#rb)"/>
<circle cx="236.50" cy="276.20" r="4.5" fill="url(#rb)"/>
<circle cx="246.00" cy="273.60" r="4.5" fill="url(#rb)"/>
<circle cx="266.10" cy="272.60" r="4.5" fill="url(#rb)"/>
<circle cx="285.00" cy="270.90" r="4.5" fill="url(#rb)"/>
<circle cx="302.60" cy="268.30" r="4.5" fill="url(#rb)"/>
<path d="M50.31,467.25 L51.44,465.07 L52.58,462.90 L53.71,460.72 L54.84,458.55 L55.97,456.37 L57.10,454.20 L58.23,452.02 L59.36,449.85 L60.49,447.67 L61.63,445.50 L62.76,443.32 L63.89,441.15 L65.02,438.97 L66.15,436.80 L67.28,434.62 L68.41,432.45 L69.54,430.27 L70.68,428.10 L71.81,425.92 L72.94,423.75 L74.07,421.57 L75.20,419.40 L76.33,417.22 L77.46,415.05 L78.59,412.88 L79.73,410.70 L80.86,408.53 L81.99,406.36 L83.12,404.19 L84.25,402.02 L85.38,399.85 L86.51,397.68 L87.64,395.51 L88.78,393.34 L89.91,391.18 L91.04,389.01 L92.17,386.85 L93.30,384.69 L94.43,382.53 L95.56,380.38 L96.69,378.23 L97.83,376.08 L98.96,373.94 L100.09,371.80 L101.22,369.67 L102.35,367.54 L103.48,365.42 L104.61,363.31 L105.75,361.20 L106.88,359.11 L108.01,357.03 L109.14,354.96 L110.27,352.90 L111.40,350.86 L112.53,348.83 L113.66,346.82 L114.80,344.83 L115.93,342.86 L117.06,340.92 L118.19,338.99 L119.32,337.09 L120.45,335.22 L121.58,333.38 L122.71,331.56 L123.85,329.78 L124.98,328.03 L126.11,326.32 L127.24,324.64 L128.37,322.99 L129.50,321.39 L130.63,319.82 L131.76,318.29 L132.90,316.80 L134.03,315.35 L135.16,313.95 L136.29,312.58 L137.42,311.25 L138.55,309.97 L139.68,308.73 L140.81,307.52 L141.95,306.36 L143.08,305.23 L144.21,304.15 L145.34,303.10 L146.47,302.09 L147.60,301.12 L148.73,300.18 L149.86,299.27 L151.00,298.40 L152.13,297.56 L153.26,296.75 L154.39,295.97 L155.52,295.22 L156.65,294.50 L157.78,293.80 L158.92,293.13 L160.05,292.48 L161.18,291.86 L162.31,291.25 L163.44,290.67 L164.57,290.11 L165.70,289.56 L166.83,289.04 L167.97,288.53 L169.10,288.04 L170.23,287.56 L171.36,287.10 L172.49,286.65 L173.62,286.21 L174.75,285.79 L175.88,285.38 L177.02,284.98 L178.15,284.60 L179.28,284.22 L180.41,283.85 L181.54,283.49 L182.67,283.15 L183.80,282.81 L184.93,282.47 L186.07,282.15 L187.20,281.84 L188.33,281.53 L189.46,281.23 L190.59,280.93 L191.72,280.64 L192.85,280.36 L193.98,280.08 L195.12,279.81 L196.25,279.55 L197.38,279.29 L198.51,279.03 L199.64,278.78 L200.77,278.54 L201.90,278.30 L203.03,278.06 L204.17,277.83 L205.30,277.60 L206.43,277.38 L207.56,277.16 L208.69,276.95 L209.82,276.73 L210.95,276.53 L212.08,276.32 L213.22,276.12 L214.35,275.92 L215.48,275.72 L216.61,275.53 L217.74,275.34 L218.87,275.16 L220.00,274.97 L221.14,274.79 L222.27,274.61 L223.40,274.44 L224.53,274.26 L225.66,274.09 L226.79,273.93 L227.92,273.76 L229.05,273.60 L230.19,273.43 L231.32,273.27 L232.45,273.12 L233.58,272.96 L234.71,272.81 L235.84,272.66 L236.97,272.51 L238.10,272.36 L239.24,272.21 L240.37,272.07 L241.50,271.93 L242.63,271.79 L243.76,271.65 L244.89,271.51 L246.02,271.38 L247.15,271.24 L248.29,271.11 L249.42,270.98 L250.55,270.85 L251.68,270.72 L252.81,270.59 L253.94,270.47 L255.07,270.34 L256.20,270.22 L257.34,270.10 L258.47,269.98 L259.60,269.86 L260.73,269.74 L261.86,269.63 L262.99,269.51 L264.12,269.40 L265.25,269.29 L266.39,269.18 L267.52,269.06 L268.65,268.96 L269.78,268.85 L270.91,268.74 L272.04,268.63 L273.17,268.53 L274.31,268.42 L275.44,268.32 L276.57,268.22 L277.70,268.12 L278.83,268.02 L279.96,267.92 L281.09,267.82 L282.22,267.72 L283.36,267.62 L284.49,267.53 L285.62,267.43 L286.75,267.34 L287.88,267.24 L289.01,267.15 L290.14,267.06 L291.27,266.97 L292.41,266.88 L293.54,266.79 L294.67,266.70 L295.80,266.61 L296.93,266.52 L298.06,266.44 L299.19,266.35 L300.32,266.27 L301.46,266.18 L302.59,266.10 L303.72,266.02 L304.85,265.93 L305.98,265.85 L307.11,265.77 L308.24,265.69 L309.37,265.61 L310.51,265.53 L311.64,265.45 L312.77,265.37 L313.90,265.30 L315.03,265.22 L316.16,265.14 L317.29,265.07 L318.42,264.99 L319.56,264.92 L320.69,264.84 L321.82,264.77 L322.95,264.70 L324.08,264.62 L325.21,264.55 L326.34,264.48 L327.47,264.41 L328.61,264.34 L329.74,264.27 L330.87,264.20 L332.00,264.13" fill="none" stroke="#000000" stroke-width="2.5" stroke-linecap="round" stroke-linejoin="round" stroke-dasharray="0 3.0" clip-path="url(#clipb)"/>
<path d="M48.05,466.03 L49.18,463.82 L50.31,461.62 L51.44,459.41 L52.58,457.21 L53.71,455.00 L54.84,452.80 L55.97,450.59 L57.10,448.38 L58.23,446.18 L59.36,443.97 L60.49,441.77 L61.63,439.56 L62.76,437.36 L63.89,435.15 L65.02,432.95 L66.15,430.74 L67.28,428.54 L68.41,426.33 L69.54,424.12 L70.68,421.92 L71.81,419.71 L72.94,417.51 L74.07,415.31 L75.20,413.10 L76.33,410.90 L77.46,408.69 L78.59,406.49 L79.73,404.29 L80.86,402.08 L81.99,399.88 L83.12,397.68 L84.25,395.48 L85.38,393.28 L86.51,391.08 L87.64,388.89 L88.78,386.69 L89.91,384.50 L91.04,382.30 L92.17,380.11 L93.30,377.93 L94.43,375.74 L95.56,373.56 L96.69,371.39 L97.83,369.21 L98.96,367.05 L100.09,364.89 L101.22,362.73 L102.35,360.59 L103.48,358.45 L104.61,356.32 L105.75,354.21 L106.88,352.10 L108.01,350.01 L109.14,347.94 L110.27,345.88 L111.40,343.84 L112.53,341.82 L113.66,339.82 L114.80,337.85 L115.93,335.90 L117.06,333.98 L118.19,332.09 L119.32,330.23 L120.45,328.41 L121.58,326.62 L122.71,324.86 L123.85,323.15 L124.98,321.47 L126.11,319.84 L127.24,318.25 L128.37,316.70 L129.50,315.20 L130.63,313.74 L131.76,312.32 L132.90,310.96 L134.03,309.63 L135.16,308.35 L136.29,307.12 L137.42,305.93 L138.55,304.78 L139.68,303.68 L140.81,302.61 L141.95,301.59 L143.08,300.61 L144.21,299.66 L145.34,298.75 L146.47,297.88 L147.60,297.04 L148.73,296.24 L149.86,295.46 L151.00,294.72 L152.13,294.00 L153.26,293.31 L154.39,292.64 L155.52,292.01 L156.65,291.39 L157.78,290.80 L158.92,290.22 L160.05,289.67 L161.18,289.14 L162.31,288.62 L163.44,288.12 L164.57,287.64 L165.70,287.17 L166.83,286.72 L167.97,286.28 L169.10,285.85 L170.23,285.44 L171.36,285.03 L172.49,284.64 L173.62,284.26 L174.75,283.89 L175.88,283.53 L177.02,283.18 L178.15,282.84 L179.28,282.51 L180.41,282.18 L181.54,281.86 L182.67,281.55 L183.80,281.25 L184.93,280.95 L186.07,280.66 L187.20,280.38 L188.33,280.10 L189.46,279.83 L190.59,279.56 L191.72,279.30 L192.85,279.05 L193.98,278.80 L195.12,278.55 L196.25,278.31 L197.38,278.07 L198.51,277.84 L199.64,277.61 L200.77,277.39 L201.90,277.17 L203.03,276.95 L204.17,276.74 L205.30,276.53 L206.43,276.32 L207.56,276.12 L208.69,275.92 L209.82,275.73 L210.95,275.53 L212.08,275.34 L213.22,275.16 L214.35,274.97 L215.48,274.79 L216.61,274.61 L217.74,274.44 L218.87,274.26 L220.00,274.09 L221.14,273.92 L222.27,273.76 L223.40,273.59 L224.53,273.43 L225.66,273.27 L226.79,273.11 L227.92,272.96 L229.05,272.80 L230.19,272.65 L231.32,272.50 L232.45,272.35 L233.58,272.21 L234.71,272.06 L235.84,271.92 L236.97,271.78 L238.10,271.64 L239.24,271.50 L240.37,271.37 L241.50,271.23 L242.63,271.10 L243.76,270.97 L244.89,270.84 L246.02,270.71 L247.15,270.58 L248.29,270.46 L249.42,270.33 L250.55,270.21 L251.68,270.09 L252.81,269.97 L253.94,269.85 L255.07,269.73 L256.20,269.62 L257.34,269.50 L258.47,269.39 L259.60,269.27 L260.73,269.16 L261.86,269.05 L262.99,268.94 L264.12,268.83 L265.25,268.73 L266.39,268.62 L267.52,268.51 L268.65,268.41 L269.78,268.31 L270.91,268.20 L272.04,268.10 L273.17,268.00 L274.31,267.90 L275.44,267.80 L276.57,267.71 L277.70,267.61 L278.83,267.51 L279.96,267.42 L281.09,267.32 L282.22,267.23 L283.36,267.14 L284.49,267.05 L285.62,266.95 L286.75,266.86 L287.88,266.77 L289.01,266.69 L290.14,266.60 L291.27,266.51 L292.41,266.42 L293.54,266.34 L294.67,266.25 L295.80,266.17 L296.93,266.08 L298.06,266.00 L299.19,265.92 L300.32,265.84 L301.46,265.75 L302.59,265.67 L303.72,265.59 L304.85,265.51 L305.98,265.44 L307.11,265.36 L308.24,265.28 L309.37,265.20 L310.51,265.13 L311.64,265.05 L312.77,264.98 L313.90,264.90 L315.03,264.83 L316.16,264.75 L317.29,264.68 L318.42,264.61 L319.56,264.54 L320.69,264.46 L321.82,264.39 L322.95,264.32 L324.08,264.25 L325.21,264.18 L326.34,264.11 L327.47,264.05 L328.61,263.98 L329.74,263.91 L330.87,263.84 L332.00,263.78" fill="none" stroke="#008000" stroke-width="2.5" stroke-linecap="round" stroke-linejoin="round" stroke-dasharray="3.2 4.7 0 4.2 0 4.6" clip-path="url(#clipb)"/>
<path d="M43.53,466.47 L44.66,464.30 L45.79,462.13 L46.92,459.96 L48.05,457.79 L49.18,455.62 L50.31,453.44 L51.44,451.27 L52.58,449.10 L53.71,446.93 L54.84,444.76 L55.97,442.59 L57.10,440.41 L58.23,438.24 L59.36,436.07 L60.49,433.90 L61.63,431.73 L62.76,429.56 L63.89,427.39 L65.02,425.21 L66.15,423.04 L67.28,420.87 L68.41,418.70 L69.54,416.53 L70.68,414.36 L71.81,412.19 L72.94,410.02 L74.07,407.85 L75.20,405.68 L76.33,403.52 L77.46,401.35 L78.59,399.18 L79.73,397.02 L80.86,394.85 L81.99,392.69 L83.12,390.53 L84.25,388.37 L85.38,386.21 L86.51,384.05 L87.64,381.90 L88.78,379.75 L89.91,377.60 L91.04,375.45 L92.17,373.31 L93.30,371.18 L94.43,369.05 L95.56,366.93 L96.69,364.81 L97.83,362.70 L98.96,360.60 L100.09,358.51 L101.22,356.43 L102.35,354.37 L103.48,352.31 L104.61,350.28 L105.75,348.25 L106.88,346.25 L108.01,344.26 L109.14,342.30 L110.27,340.35 L111.40,338.44 L112.53,336.54 L113.66,334.68 L114.80,332.84 L115.93,331.03 L117.06,329.26 L118.19,327.51 L119.32,325.81 L120.45,324.13 L121.58,322.50 L122.71,320.90 L123.85,319.34 L124.98,317.83 L126.11,316.35 L127.24,314.91 L128.37,313.52 L129.50,312.16 L130.63,310.85 L131.76,309.58 L132.90,308.35 L134.03,307.16 L135.16,306.01 L136.29,304.90 L137.42,303.83 L138.55,302.79 L139.68,301.80 L140.81,300.84 L141.95,299.91 L143.08,299.02 L144.21,298.16 L145.34,297.34 L146.47,296.54 L147.60,295.77 L148.73,295.03 L149.86,294.32 L151.00,293.64 L152.13,292.98 L153.26,292.34 L154.39,291.72 L155.52,291.13 L156.65,290.56 L157.78,290.01 L158.92,289.47 L160.05,288.95 L161.18,288.45 L162.31,287.97 L163.44,287.50 L164.57,287.04 L165.70,286.60 L166.83,286.17 L167.97,285.76 L169.10,285.35 L170.23,284.96 L171.36,284.58 L172.49,284.21 L173.62,283.85 L174.75,283.49 L175.88,283.15 L177.02,282.81 L178.15,282.49 L179.28,282.17 L180.41,281.85 L181.54,281.55 L182.67,281.25 L183.80,280.96 L184.93,280.68 L186.07,280.40 L187.20,280.12 L188.33,279.86 L189.46,279.59 L190.59,279.34 L191.72,279.08 L192.85,278.84 L193.98,278.60 L195.12,278.36 L196.25,278.12 L197.38,277.90 L198.51,277.67 L199.64,277.45 L200.77,277.23 L201.90,277.02 L203.03,276.81 L204.17,276.60 L205.30,276.40 L206.43,276.20 L207.56,276.00 L208.69,275.81 L209.82,275.62 L210.95,275.43 L212.08,275.24 L213.22,275.06 L214.35,274.88 L215.48,274.71 L216.61,274.53 L217.74,274.36 L218.87,274.19 L220.00,274.02 L221.14,273.86 L222.27,273.70 L223.40,273.54 L224.53,273.38 L225.66,273.22 L226.79,273.07 L227.92,272.91 L229.05,272.76 L230.19,272.62 L231.32,272.47 L232.45,272.33 L233.58,272.18 L234.71,272.04 L235.84,271.90 L236.97,271.76 L238.10,271.63 L239.24,271.49 L240.37,271.36 L241.50,271.23 L242.63,271.10 L243.76,270.97 L244.89,270.84 L246.02,270.72 L247.15,270.59 L248.29,270.47 L249.42,270.35 L250.55,270.23 L251.68,270.11 L252.81,269.99 L253.94,269.87 L255.07,269.76 L256.20,269.64 L257.34,269.53 L258.47,269.42 L259.60,269.31 L260.73,269.20 L261.86,269.09 L262.99,268.98 L264.12,268.87 L265.25,268.77 L266.39,268.66 L267.52,268.56 L268.65,268.46 L269.78,268.36 L270.91,268.25 L272.04,268.16 L273.17,268.06 L274.31,267.96 L275.44,267.86 L276.57,267.76 L277.70,267.67 L278.83,267.57 L279.96,267.48 L281.09,267.39 L282.22,267.30 L283.36,267.20 L284.49,267.11 L285.62,267.02 L286.75,266.94 L287.88,266.85 L289.01,266.76 L290.14,266.67 L291.27,266.59 L292.41,266.50 L293.54,266.42 L294.67,266.33 L295.80,266.25 L296.93,266.17 L298.06,266.08 L299.19,266.00 L300.32,265.92 L301.46,265.84 L302.59,265.76 L303.72,265.68 L304.85,265.61 L305.98,265.53 L307.11,265.45 L308.24,265.37 L309.37,265.30 L310.51,265.22 L311.64,265.15 L312.77,265.07 L313.90,265.00 L315.03,264.93 L316.16,264.85 L317.29,264.78 L318.42,264.71 L319.56,264.64 L320.69,264.57 L321.82,264.50 L322.95,264.43 L324.08,264.36 L325.21,264.29 L326.34,264.22 L327.47,264.16 L328.61,264.09 L329.74,264.02 L330.87,263.96 L332.00,263.89" fill="none" stroke="#0000ff" stroke-width="2.5" stroke-linecap="round" stroke-linejoin="round" stroke-dasharray="1.1 4.1" clip-path="url(#clipb)"/>
<path d="M39.00,466.77 L40.13,464.61 L41.26,462.44 L42.39,460.28 L43.53,458.11 L44.66,455.95 L45.79,453.79 L46.92,451.62 L48.05,449.46 L49.18,447.29 L50.31,445.13 L51.44,442.96 L52.58,440.80 L53.71,438.64 L54.84,436.47 L55.97,434.31 L57.10,432.15 L58.23,429.98 L59.36,427.82 L60.49,425.66 L61.63,423.49 L62.76,421.33 L63.89,419.17 L65.02,417.01 L66.15,414.85 L67.28,412.69 L68.41,410.53 L69.54,408.37 L70.68,406.21 L71.81,404.05 L72.94,401.90 L74.07,399.75 L75.20,397.59 L76.33,395.44 L77.46,393.30 L78.59,391.15 L79.73,389.01 L80.86,386.87 L81.99,384.73 L83.12,382.60 L84.25,380.47 L85.38,378.35 L86.51,376.23 L87.64,374.12 L88.78,372.02 L89.91,369.93 L91.04,367.84 L92.17,365.76 L93.30,363.70 L94.43,361.64 L95.56,359.60 L96.69,357.57 L97.83,355.56 L98.96,353.56 L100.09,351.58 L101.22,349.61 L102.35,347.67 L103.48,345.74 L104.61,343.84 L105.75,341.96 L106.88,340.11 L108.01,338.28 L109.14,336.48 L110.27,334.70 L111.40,332.95 L112.53,331.24 L113.66,329.55 L114.80,327.89 L115.93,326.27 L117.06,324.68 L118.19,323.12 L119.32,321.60 L120.45,320.11 L121.58,318.66 L122.71,317.24 L123.85,315.86 L124.98,314.52 L126.11,313.21 L127.24,311.93 L128.37,310.69 L129.50,309.49 L130.63,308.32 L131.76,307.19 L132.90,306.09 L134.03,305.02 L135.16,303.99 L136.29,302.99 L137.42,302.02 L138.55,301.09 L139.68,300.18 L140.81,299.31 L141.95,298.46 L143.08,297.64 L144.21,296.85 L145.34,296.09 L146.47,295.35 L147.60,294.64 L148.73,293.95 L149.86,293.28 L151.00,292.64 L152.13,292.02 L153.26,291.42 L154.39,290.83 L155.52,290.27 L156.65,289.72 L157.78,289.20 L158.92,288.68 L160.05,288.19 L161.18,287.71 L162.31,287.24 L163.44,286.79 L164.57,286.35 L165.70,285.92 L166.83,285.51 L167.97,285.10 L169.10,284.71 L170.23,284.33 L171.36,283.96 L172.49,283.59 L173.62,283.24 L174.75,282.90 L175.88,282.56 L177.02,282.23 L178.15,281.91 L179.28,281.60 L180.41,281.30 L181.54,281.00 L182.67,280.70 L183.80,280.42 L184.93,280.14 L186.07,279.87 L187.20,279.60 L188.33,279.34 L189.46,279.08 L190.59,278.83 L191.72,278.58 L192.85,278.34 L193.98,278.10 L195.12,277.86 L196.25,277.63 L197.38,277.41 L198.51,277.19 L199.64,276.97 L200.77,276.75 L201.90,276.54 L203.03,276.34 L204.17,276.13 L205.30,275.93 L206.43,275.74 L207.56,275.54 L208.69,275.35 L209.82,275.16 L210.95,274.98 L212.08,274.79 L213.22,274.62 L214.35,274.44 L215.48,274.26 L216.61,274.09 L217.74,273.92 L218.87,273.75 L220.00,273.59 L221.14,273.43 L222.27,273.27 L223.40,273.11 L224.53,272.95 L225.66,272.80 L226.79,272.64 L227.92,272.49 L229.05,272.34 L230.19,272.20 L231.32,272.05 L232.45,271.91 L233.58,271.77 L234.71,271.63 L235.84,271.49 L236.97,271.35 L238.10,271.22 L239.24,271.09 L240.37,270.95 L241.50,270.82 L242.63,270.70 L243.76,270.57 L244.89,270.44 L246.02,270.32 L247.15,270.19 L248.29,270.07 L249.42,269.95 L250.55,269.83 L251.68,269.71 L252.81,269.60 L253.94,269.48 L255.07,269.37 L256.20,269.25 L257.34,269.14 L258.47,269.03 L259.60,268.92 L260.73,268.81 L261.86,268.70 L262.99,268.60 L264.12,268.49 L265.25,268.39 L266.39,268.28 L267.52,268.18 L268.65,268.08 L269.78,267.98 L270.91,267.88 L272.04,267.78 L273.17,267.68 L274.31,267.58 L275.44,267.49 L276.57,267.39 L277.70,267.30 L278.83,267.20 L279.96,267.11 L281.09,267.02 L282.22,266.93 L283.36,266.84 L284.49,266.75 L285.62,266.66 L286.75,266.57 L287.88,266.48 L289.01,266.39 L290.14,266.31 L291.27,266.22 L292.41,266.14 L293.54,266.05 L294.67,265.97 L295.80,265.89 L296.93,265.81 L298.06,265.72 L299.19,265.64 L300.32,265.56 L301.46,265.48 L302.59,265.40 L303.72,265.33 L304.85,265.25 L305.98,265.17 L307.11,265.09 L308.24,265.02 L309.37,264.94 L310.51,264.87 L311.64,264.79 L312.77,264.72 L313.90,264.65 L315.03,264.57 L316.16,264.50 L317.29,264.43 L318.42,264.36 L319.56,264.29 L320.69,264.22 L321.82,264.15 L322.95,264.08 L324.08,264.01 L325.21,263.94 L326.34,263.88 L327.47,263.81 L328.61,263.74 L329.74,263.67 L330.87,263.61 L332.00,263.54" fill="none" stroke="#00ffff" stroke-width="3.0" stroke-linecap="butt" stroke-linejoin="round" clip-path="url(#clipb)"/>
<path d="M74.0,405.5 V412.0 M73.2,405.5 h1.6" stroke="#e00000" stroke-width="0.8" fill="none"/>
<path d="M74.0,412.0 V418.5 M73.2,418.5 h1.6" stroke="#e00000" stroke-width="0.8" fill="none"/>
<path d="M84.3,385.9 V390.6 M83.5,385.9 h1.6" stroke="#e00000" stroke-width="0.8" fill="none"/>
<path d="M93.8,366.9 V371.6 M93.0,366.9 h1.6" stroke="#e00000" stroke-width="0.8" fill="none"/>
<path d="M102.9,347.1 V351.8 M102.1,347.1 h1.6" stroke="#e00000" stroke-width="0.8" fill="none"/>
<path d="M111.2,330.7 V335.4 M110.4,330.7 h1.6" stroke="#e00000" stroke-width="0.8" fill="none"/>
<path d="M123.0,317.6 V322.3 M122.2,317.6 h1.6" stroke="#e00000" stroke-width="0.8" fill="none"/>
<path d="M131.2,307.8 V312.5 M130.4,307.8 h1.6" stroke="#e00000" stroke-width="0.8" fill="none"/>
<path d="M142.0,298.3 V303.0 M141.2,298.3 h1.6" stroke="#e00000" stroke-width="0.8" fill="none"/>
<path d="M151.0,295.7 V300.4 M150.2,295.7 h1.6" stroke="#e00000" stroke-width="0.8" fill="none"/>
<path d="M159.7,289.5 V294.2 M158.9,289.5 h1.6" stroke="#e00000" stroke-width="0.8" fill="none"/>
<path d="M169.3,286.0 V290.7 M168.5,286.0 h1.6" stroke="#e00000" stroke-width="0.8" fill="none"/>
<path d="M179.6,283.1 V287.8 M178.8,283.1 h1.6" stroke="#e00000" stroke-width="0.8" fill="none"/>
<path d="M190.3,279.9 V284.6 M189.5,279.9 h1.6" stroke="#e00000" stroke-width="0.8" fill="none"/>
<path d="M198.8,278.8 V283.5 M198.0,278.8 h1.6" stroke="#e00000" stroke-width="0.8" fill="none"/>
<path d="M208.1,276.3 V281.0 M207.3,276.3 h1.6" stroke="#e00000" stroke-width="0.8" fill="none"/>
<path d="M218.3,273.3 V278.0 M217.5,273.3 h1.6" stroke="#e00000" stroke-width="0.8" fill="none"/>
<path d="M226.1,273.5 V278.2 M225.3,273.5 h1.6" stroke="#e00000" stroke-width="0.8" fill="none"/>
<path d="M236.5,271.5 V276.2 M235.7,271.5 h1.6" stroke="#e00000" stroke-width="0.8" fill="none"/>
<path d="M246.0,268.9 V273.6 M245.2,268.9 h1.6" stroke="#e00000" stroke-width="0.8" fill="none"/>
<path d="M266.1,267.9 V272.6 M265.3,267.9 h1.6" stroke="#e00000" stroke-width="0.8" fill="none"/>
<path d="M285.0,266.2 V270.9 M284.2,266.2 h1.6" stroke="#e00000" stroke-width="0.8" fill="none"/>
<path d="M302.6,263.6 V268.3 M301.8,263.6 h1.6" stroke="#e00000" stroke-width="0.8" fill="none"/>
<circle cx="422.30" cy="412.10" r="4.5" fill="url(#rb)"/>
<circle cx="432.60" cy="390.70" r="4.5" fill="url(#rb)"/>
<circle cx="442.10" cy="371.70" r="4.5" fill="url(#rb)"/>
<circle cx="451.20" cy="351.90" r="4.5" fill="url(#rb)"/>
<circle cx="459.50" cy="335.50" r="4.5" fill="url(#rb)"/>
<circle cx="471.30" cy="322.40" r="4.5" fill="url(#rb)"/>
<circle cx="479.50" cy="312.60" r="4.5" fill="url(#rb)"/>
<circle cx="490.30" cy="303.10" r="4.5" fill="url(#rb)"/>
<circle cx="499.30" cy="300.50" r="4.5" fill="url(#rb)"/>
<circle cx="508.00" cy="294.30" r="4.5" fill="url(#rb)"/>
<circle cx="517.60" cy="290.80" r="4.5" fill="url(#rb)"/>
<circle cx="527.90" cy="287.90" r="4.5" fill="url(#rb)"/>
<circle cx="538.60" cy="284.70" r="4.5" fill="url(#rb)"/>
<circle cx="547.10" cy="283.60" r="4.5" fill="url(#rb)"/>
<circle cx="556.40" cy="281.10" r="4.5" fill="url(#rb)"/>
<circle cx="566.60" cy="278.10" r="4.5" fill="url(#rb)"/>
<circle cx="574.40" cy="278.30" r="4.5" fill="url(#rb)"/>
<circle cx="584.80" cy="276.30" r="4.5" fill="url(#rb)"/>
<circle cx="594.30" cy="273.70" r="4.5" fill="url(#rb)"/>
<circle cx="614.40" cy="272.70" r="4.5" fill="url(#rb)"/>
<circle cx="633.30" cy="271.00" r="4.5" fill="url(#rb)"/>
<circle cx="650.90" cy="268.40" r="4.5" fill="url(#rb)"/>
<path d="M398.60,467.35 L399.73,465.17 L400.86,463.00 L401.99,460.82 L403.12,458.65 L404.25,456.47 L405.38,454.30 L406.51,452.12 L407.64,449.95 L408.77,447.77 L409.90,445.60 L411.03,443.42 L412.16,441.25 L413.29,439.07 L414.42,436.90 L415.55,434.72 L416.68,432.55 L417.81,430.37 L418.94,428.20 L420.07,426.02 L421.20,423.85 L422.33,421.67 L423.46,419.50 L424.59,417.32 L425.72,415.15 L426.85,412.98 L427.98,410.80 L429.11,408.63 L430.24,406.46 L431.37,404.29 L432.50,402.12 L433.63,399.95 L434.76,397.78 L435.89,395.61 L437.03,393.44 L438.16,391.28 L439.29,389.11 L440.42,386.95 L441.55,384.79 L442.68,382.63 L443.81,380.48 L444.94,378.33 L446.07,376.18 L447.20,374.04 L448.33,371.90 L449.46,369.77 L450.59,367.64 L451.72,365.52 L452.85,363.41 L453.98,361.30 L455.11,359.21 L456.24,357.13 L457.37,355.06 L458.50,353.00 L459.63,350.96 L460.76,348.93 L461.89,346.92 L463.02,344.93 L464.15,342.96 L465.28,341.02 L466.41,339.09 L467.54,337.19 L468.67,335.32 L469.80,333.48 L470.93,331.66 L472.06,329.88 L473.19,328.13 L474.32,326.42 L475.45,324.74 L476.58,323.09 L477.71,321.49 L478.84,319.92 L479.97,318.39 L481.10,316.90 L482.23,315.45 L483.36,314.05 L484.49,312.68 L485.62,311.35 L486.75,310.07 L487.88,308.83 L489.01,307.62 L490.14,306.46 L491.27,305.33 L492.40,304.25 L493.53,303.20 L494.66,302.19 L495.79,301.22 L496.92,300.28 L498.05,299.37 L499.18,298.50 L500.31,297.66 L501.44,296.85 L502.57,296.07 L503.70,295.32 L504.83,294.60 L505.96,293.90 L507.09,293.23 L508.22,292.58 L509.35,291.96 L510.48,291.35 L511.61,290.77 L512.74,290.21 L513.87,289.66 L515.00,289.14 L516.13,288.63 L517.26,288.14 L518.39,287.66 L519.52,287.20 L520.65,286.75 L521.78,286.31 L522.91,285.89 L524.04,285.48 L525.17,285.08 L526.30,284.70 L527.43,284.32 L528.56,283.95 L529.69,283.59 L530.82,283.25 L531.95,282.91 L533.08,282.57 L534.22,282.25 L535.35,281.94 L536.48,281.63 L537.61,281.33 L538.74,281.03 L539.87,280.74 L541.00,280.46 L542.13,280.18 L543.26,279.91 L544.39,279.65 L545.52,279.39 L546.65,279.13 L547.78,278.88 L548.91,278.64 L550.04,278.40 L551.17,278.16 L552.30,277.93 L553.43,277.70 L554.56,277.48 L555.69,277.26 L556.82,277.05 L557.95,276.83 L559.08,276.63 L560.21,276.42 L561.34,276.22 L562.47,276.02 L563.60,275.82 L564.73,275.63 L565.86,275.44 L566.99,275.26 L568.12,275.07 L569.25,274.89 L570.38,274.71 L571.51,274.54 L572.64,274.36 L573.77,274.19 L574.90,274.03 L576.03,273.86 L577.16,273.70 L578.29,273.53 L579.42,273.37 L580.55,273.22 L581.68,273.06 L582.81,272.91 L583.94,272.76 L585.07,272.61 L586.20,272.46 L587.33,272.31 L588.46,272.17 L589.59,272.03 L590.72,271.89 L591.85,271.75 L592.98,271.61 L594.11,271.48 L595.24,271.34 L596.37,271.21 L597.50,271.08 L598.63,270.95 L599.76,270.82 L600.89,270.69 L602.02,270.57 L603.15,270.44 L604.28,270.32 L605.41,270.20 L606.54,270.08 L607.67,269.96 L608.80,269.84 L609.93,269.73 L611.06,269.61 L612.19,269.50 L613.32,269.39 L614.45,269.28 L615.58,269.16 L616.71,269.06 L617.84,268.95 L618.97,268.84 L620.10,268.73 L621.23,268.63 L622.36,268.52 L623.49,268.42 L624.62,268.32 L625.75,268.22 L626.88,268.12 L628.01,268.02 L629.14,267.92 L630.27,267.82 L631.41,267.72 L632.54,267.63 L633.67,267.53 L634.80,267.44 L635.93,267.34 L637.06,267.25 L638.19,267.16 L639.32,267.07 L640.45,266.98 L641.58,266.89 L642.71,266.80 L643.84,266.71 L644.97,266.62 L646.10,266.54 L647.23,266.45 L648.36,266.37 L649.49,266.28 L650.62,266.20 L651.75,266.12 L652.88,266.03 L654.01,265.95 L655.14,265.87 L656.27,265.79 L657.40,265.71 L658.53,265.63 L659.66,265.55 L660.79,265.47 L661.92,265.40 L663.05,265.32 L664.18,265.24 L665.31,265.17 L666.44,265.09 L667.57,265.02 L668.70,264.94 L669.83,264.87 L670.96,264.80 L672.09,264.72 L673.22,264.65 L674.35,264.58 L675.48,264.51 L676.61,264.44 L677.74,264.37 L678.87,264.30 L680.00,264.23" fill="none" stroke="#0000ff" stroke-width="0.9" clip-path="url(#clipd)"/>
<path d="M398.60,467.35 L399.73,465.17 L400.86,463.00 L401.99,460.82 L403.12,458.65 L404.25,456.47 L405.38,454.30 L406.51,452.12 L407.64,449.95 L408.77,447.77 L409.90,445.60 L411.03,443.42 L412.16,441.25 L413.29,439.07 L414.42,436.90 L415.55,434.72 L416.68,432.55 L417.81,430.37 L418.94,428.20 L420.07,426.02 L421.20,423.85 L422.33,421.67 L423.46,419.50 L424.59,417.32 L425.72,415.15 L426.85,412.98 L427.98,410.80 L429.11,408.63 L430.24,406.46 L431.37,404.29 L432.50,402.12 L433.63,399.95 L434.76,397.78 L435.89,395.61 L437.03,393.44 L438.16,391.28 L439.29,389.11 L440.42,386.95 L441.55,384.79 L442.68,382.63 L443.81,380.48 L444.94,378.33 L446.07,376.18 L447.20,374.04 L448.33,371.90 L449.46,369.77 L450.59,367.64 L451.72,365.52 L452.85,363.41 L453.98,361.30 L455.11,359.21 L456.24,357.13 L457.37,355.06 L458.50,353.00 L459.63,350.96 L460.76,348.93 L461.89,346.92 L463.02,344.93 L464.15,342.96 L465.28,341.02 L466.41,339.09 L467.54,337.19 L468.67,335.32 L469.80,333.48 L470.93,331.66 L472.06,329.88 L473.19,328.13 L474.32,326.42 L475.45,324.74 L476.58,323.09 L477.71,321.49 L478.84,319.92 L479.97,318.39 L481.10,316.90 L482.23,315.45 L483.36,314.05 L484.49,312.68 L485.62,311.35 L486.75,310.07 L487.88,308.83 L489.01,307.62 L490.14,306.46 L491.27,305.33 L492.40,304.25 L493.53,303.20 L494.66,302.19 L495.79,301.22 L496.92,300.28 L498.05,299.37 L499.18,298.50 L500.31,297.66 L501.44,296.85 L502.57,296.07 L503.70,295.32 L504.83,294.60 L505.96,293.90 L507.09,293.23 L508.22,292.58 L509.35,291.96 L510.48,291.35 L511.61,290.77 L512.74,290.21 L513.87,289.66 L515.00,289.14 L516.13,288.63 L517.26,288.14 L518.39,287.66 L519.52,287.20 L520.65,286.75 L521.78,286.31 L522.91,285.89 L524.04,285.48 L525.17,285.08 L526.30,284.70 L527.43,284.32 L528.56,283.95 L529.69,283.59 L530.82,283.25 L531.95,282.91 L533.08,282.57 L534.22,282.25 L535.35,281.94 L536.48,281.63 L537.61,281.33 L538.74,281.03 L539.87,280.74 L541.00,280.46 L542.13,280.18 L543.26,279.91 L544.39,279.65 L545.52,279.39 L546.65,279.13 L547.78,278.88 L548.91,278.64 L550.04,278.40 L551.17,278.16 L552.30,277.93 L553.43,277.70 L554.56,277.48 L555.69,277.26 L556.82,277.05 L557.95,276.83 L559.08,276.63 L560.21,276.42 L561.34,276.22 L562.47,276.02 L563.60,275.82 L564.73,275.63 L565.86,275.44 L566.99,275.26 L568.12,275.07 L569.25,274.89 L570.38,274.71 L571.51,274.54 L572.64,274.36 L573.77,274.19 L574.90,274.03 L576.03,273.86 L577.16,273.70 L578.29,273.53 L579.42,273.37 L580.55,273.22 L581.68,273.06 L582.81,272.91 L583.94,272.76 L585.07,272.61 L586.20,272.46 L587.33,272.31 L588.46,272.17 L589.59,272.03 L590.72,271.89 L591.85,271.75 L592.98,271.61 L594.11,271.48 L595.24,271.34 L596.37,271.21 L597.50,271.08 L598.63,270.95 L599.76,270.82 L600.89,270.69 L602.02,270.57 L603.15,270.44 L604.28,270.32 L605.41,270.20 L606.54,270.08 L607.67,269.96 L608.80,269.84 L609.93,269.73 L611.06,269.61 L612.19,269.50 L613.32,269.39 L614.45,269.28 L615.58,269.16 L616.71,269.06 L617.84,268.95 L618.97,268.84 L620.10,268.73 L621.23,268.63 L622.36,268.52 L623.49,268.42 L624.62,268.32 L625.75,268.22 L626.88,268.12 L628.01,268.02 L629.14,267.92 L630.27,267.82 L631.41,267.72 L632.54,267.63 L633.67,267.53 L634.80,267.44 L635.93,267.34 L637.06,267.25 L638.19,267.16 L639.32,267.07 L640.45,266.98 L641.58,266.89 L642.71,266.80 L643.84,266.71 L644.97,266.62 L646.10,266.54 L647.23,266.45 L648.36,266.37 L649.49,266.28 L650.62,266.20 L651.75,266.12 L652.88,266.03 L654.01,265.95 L655.14,265.87 L656.27,265.79 L657.40,265.71 L658.53,265.63 L659.66,265.55 L660.79,265.47 L661.92,265.40 L663.05,265.32 L664.18,265.24 L665.31,265.17 L666.44,265.09 L667.57,265.02 L668.70,264.94 L669.83,264.87 L670.96,264.80 L672.09,264.72 L673.22,264.65 L674.35,264.58 L675.48,264.51 L676.61,264.44 L677.74,264.37 L678.87,264.30 L680.00,264.23" fill="none" stroke="#0000ff" stroke-width="2.5" stroke-linecap="round" stroke-linejoin="round" stroke-dasharray="0 3.0" clip-path="url(#clipd)"/>
<path d="M392.95,466.06 L394.08,463.85 L395.21,461.63 L396.34,459.42 L397.47,457.21 L398.60,454.99 L399.73,452.78 L400.86,450.57 L401.99,448.35 L403.12,446.14 L404.25,443.93 L405.38,441.72 L406.51,439.51 L407.64,437.30 L408.77,435.09 L409.90,432.88 L411.03,430.67 L412.16,428.47 L413.29,426.26 L414.42,424.06 L415.55,421.86 L416.68,419.66 L417.81,417.47 L418.94,415.27 L420.07,413.08 L421.20,410.89 L422.33,408.71 L423.46,406.53 L424.59,404.35 L425.72,402.18 L426.85,400.02 L427.98,397.86 L429.11,395.70 L430.24,393.56 L431.37,391.42 L432.50,389.29 L433.63,387.16 L434.76,385.05 L435.89,382.95 L437.03,380.86 L438.16,378.78 L439.29,376.71 L440.42,374.66 L441.55,372.62 L442.68,370.59 L443.81,368.58 L444.94,366.59 L446.07,364.62 L447.20,362.66 L448.33,360.72 L449.46,358.80 L450.59,356.90 L451.72,355.03 L452.85,353.17 L453.98,351.34 L455.11,349.53 L456.24,347.75 L457.37,345.99 L458.50,344.25 L459.63,342.55 L460.76,340.86 L461.89,339.21 L463.02,337.58 L464.15,335.98 L465.28,334.41 L466.41,332.87 L467.54,331.36 L468.67,329.87 L469.80,328.42 L470.93,326.99 L472.06,325.59 L473.19,324.23 L474.32,322.89 L475.45,321.58 L476.58,320.31 L477.71,319.06 L478.84,317.84 L479.97,316.65 L481.10,315.49 L482.23,314.36 L483.36,313.26 L484.49,312.19 L485.62,311.14 L486.75,310.13 L487.88,309.14 L489.01,308.17 L490.14,307.24 L491.27,306.33 L492.40,305.44 L493.53,304.58 L494.66,303.75 L495.79,302.94 L496.92,302.15 L498.05,301.39 L499.18,300.64 L500.31,299.92 L501.44,299.22 L502.57,298.55 L503.70,297.89 L504.83,297.25 L505.96,296.63 L507.09,296.03 L508.22,295.44 L509.35,294.88 L510.48,294.33 L511.61,293.79 L512.74,293.27 L513.87,292.77 L515.00,292.28 L516.13,291.80 L517.26,291.34 L518.39,290.89 L519.52,290.45 L520.65,290.03 L521.78,289.61 L522.91,289.21 L524.04,288.82 L525.17,288.43 L526.30,288.06 L527.43,287.70 L528.56,287.34 L529.69,287.00 L530.82,286.66 L531.95,286.33 L533.08,286.01 L534.22,285.69 L535.35,285.38 L536.48,285.08 L537.61,284.79 L538.74,284.50 L539.87,284.22 L541.00,283.94 L542.13,283.67 L543.26,283.41 L544.39,283.15 L545.52,282.89 L546.65,282.64 L547.78,282.40 L548.91,282.16 L550.04,281.92 L551.17,281.69 L552.30,281.46 L553.43,281.24 L554.56,281.02 L555.69,280.80 L556.82,280.59 L557.95,280.38 L559.08,280.18 L560.21,279.98 L561.34,279.78 L562.47,279.58 L563.60,279.39 L564.73,279.20 L565.86,279.01 L566.99,278.83 L568.12,278.65 L569.25,278.47 L570.38,278.29 L571.51,278.12 L572.64,277.95 L573.77,277.78 L574.90,277.61 L576.03,277.45 L577.16,277.29 L578.29,277.13 L579.42,276.97 L580.55,276.82 L581.68,276.66 L582.81,276.51 L583.94,276.36 L585.07,276.21 L586.20,276.07 L587.33,275.92 L588.46,275.78 L589.59,275.64 L590.72,275.50 L591.85,275.37 L592.98,275.23 L594.11,275.10 L595.24,274.96 L596.37,274.83 L597.50,274.70 L598.63,274.57 L599.76,274.45 L600.89,274.32 L602.02,274.20 L603.15,274.08 L604.28,273.95 L605.41,273.83 L606.54,273.72 L607.67,273.60 L608.80,273.48 L609.93,273.37 L611.06,273.25 L612.19,273.14 L613.32,273.03 L614.45,272.92 L615.58,272.81 L616.71,272.70 L617.84,272.59 L618.97,272.49 L620.10,272.38 L621.23,272.28 L622.36,272.17 L623.49,272.07 L624.62,271.97 L625.75,271.87 L626.88,271.77 L628.01,271.67 L629.14,271.57 L630.27,271.48 L631.41,271.38 L632.54,271.28 L633.67,271.19 L634.80,271.10 L635.93,271.00 L637.06,270.91 L638.19,270.82 L639.32,270.73 L640.45,270.64 L641.58,270.55 L642.71,270.46 L643.84,270.38 L644.97,270.29 L646.10,270.20 L647.23,270.12 L648.36,270.03 L649.49,269.95 L650.62,269.87 L651.75,269.78 L652.88,269.70 L654.01,269.62 L655.14,269.54 L656.27,269.46 L657.40,269.38 L658.53,269.30 L659.66,269.22 L660.79,269.15 L661.92,269.07 L663.05,268.99 L664.18,268.92 L665.31,268.84 L666.44,268.77 L667.57,268.69 L668.70,268.62 L669.83,268.55 L670.96,268.47 L672.09,268.40 L673.22,268.33 L674.35,268.26 L675.48,268.19 L676.61,268.12 L677.74,268.05 L678.87,267.98 L680.00,267.91" fill="none" stroke="#2ca25f" stroke-width="3.0" stroke-linecap="butt" stroke-linejoin="round" clip-path="url(#clipd)"/>
<path d="M387.30,466.70 L388.43,464.49 L389.56,462.27 L390.69,460.06 L391.82,457.85 L392.95,455.64 L394.08,453.43 L395.21,451.22 L396.34,449.01 L397.47,446.80 L398.60,444.59 L399.73,442.38 L400.86,440.17 L401.99,437.96 L403.12,435.75 L404.25,433.54 L405.38,431.34 L406.51,429.13 L407.64,426.92 L408.77,424.72 L409.90,422.51 L411.03,420.31 L412.16,418.11 L413.29,415.91 L414.42,413.71 L415.55,411.51 L416.68,409.31 L417.81,407.12 L418.94,404.93 L420.07,402.74 L421.20,400.56 L422.33,398.38 L423.46,396.20 L424.59,394.03 L425.72,391.86 L426.85,389.70 L427.98,387.54 L429.11,385.40 L430.24,383.25 L431.37,381.12 L432.50,379.00 L433.63,376.88 L434.76,374.78 L435.89,372.68 L437.03,370.60 L438.16,368.53 L439.29,366.48 L440.42,364.43 L441.55,362.41 L442.68,360.40 L443.81,358.41 L444.94,356.43 L446.07,354.48 L447.20,352.54 L448.33,350.63 L449.46,348.74 L450.59,346.87 L451.72,345.02 L452.85,343.20 L453.98,341.41 L455.11,339.64 L456.24,337.89 L457.37,336.18 L458.50,334.49 L459.63,332.83 L460.76,331.20 L461.89,329.60 L463.02,328.03 L464.15,326.49 L465.28,324.98 L466.41,323.50 L467.54,322.05 L468.67,320.64 L469.80,319.25 L470.93,317.90 L472.06,316.58 L473.19,315.29 L474.32,314.03 L475.45,312.81 L476.58,311.61 L477.71,310.45 L478.84,309.31 L479.97,308.21 L481.10,307.14 L482.23,306.10 L483.36,305.08 L484.49,304.10 L485.62,303.14 L486.75,302.22 L487.88,301.32 L489.01,300.44 L490.14,299.60 L491.27,298.77 L492.40,297.98 L493.53,297.20 L494.66,296.46 L495.79,295.73 L496.92,295.03 L498.05,294.34 L499.18,293.68 L500.31,293.04 L501.44,292.42 L502.57,291.82 L503.70,291.24 L504.83,290.67 L505.96,290.12 L507.09,289.59 L508.22,289.07 L509.35,288.57 L510.48,288.09 L511.61,287.61 L512.74,287.15 L513.87,286.71 L515.00,286.27 L516.13,285.85 L517.26,285.44 L518.39,285.04 L519.52,284.65 L520.65,284.27 L521.78,283.91 L522.91,283.55 L524.04,283.20 L525.17,282.85 L526.30,282.52 L527.43,282.19 L528.56,281.87 L529.69,281.56 L530.82,281.26 L531.95,280.96 L533.08,280.67 L534.22,280.39 L535.35,280.11 L536.48,279.83 L537.61,279.57 L538.74,279.31 L539.87,279.05 L541.00,278.80 L542.13,278.55 L543.26,278.31 L544.39,278.07 L545.52,277.84 L546.65,277.61 L547.78,277.38 L548.91,277.16 L550.04,276.94 L551.17,276.73 L552.30,276.52 L553.43,276.31 L554.56,276.11 L555.69,275.91 L556.82,275.71 L557.95,275.52 L559.08,275.33 L560.21,275.14 L561.34,274.95 L562.47,274.77 L563.60,274.59 L564.73,274.42 L565.86,274.24 L566.99,274.07 L568.12,273.90 L569.25,273.73 L570.38,273.57 L571.51,273.41 L572.64,273.25 L573.77,273.09 L574.90,272.93 L576.03,272.78 L577.16,272.62 L578.29,272.47 L579.42,272.33 L580.55,272.18 L581.68,272.03 L582.81,271.89 L583.94,271.75 L585.07,271.61 L586.20,271.47 L587.33,271.34 L588.46,271.20 L589.59,271.07 L590.72,270.94 L591.85,270.81 L592.98,270.68 L594.11,270.55 L595.24,270.42 L596.37,270.30 L597.50,270.18 L598.63,270.06 L599.76,269.93 L600.89,269.82 L602.02,269.70 L603.15,269.58 L604.28,269.46 L605.41,269.35 L606.54,269.24 L607.67,269.13 L608.80,269.01 L609.93,268.90 L611.06,268.80 L612.19,268.69 L613.32,268.58 L614.45,268.48 L615.58,268.37 L616.71,268.27 L617.84,268.16 L618.97,268.06 L620.10,267.96 L621.23,267.86 L622.36,267.76 L623.49,267.67 L624.62,267.57 L625.75,267.47 L626.88,267.38 L628.01,267.28 L629.14,267.19 L630.27,267.09 L631.41,267.00 L632.54,266.91 L633.67,266.82 L634.80,266.73 L635.93,266.64 L637.06,266.55 L638.19,266.47 L639.32,266.38 L640.45,266.29 L641.58,266.21 L642.71,266.12 L643.84,266.04 L644.97,265.96 L646.10,265.87 L647.23,265.79 L648.36,265.71 L649.49,265.63 L650.62,265.55 L651.75,265.47 L652.88,265.39 L654.01,265.31 L655.14,265.23 L656.27,265.16 L657.40,265.08 L658.53,265.00 L659.66,264.93 L660.79,264.85 L661.92,264.78 L663.05,264.71 L664.18,264.63 L665.31,264.56 L666.44,264.49 L667.57,264.42 L668.70,264.34 L669.83,264.27 L670.96,264.20 L672.09,264.13 L673.22,264.07 L674.35,264.00 L675.48,263.93 L676.61,263.86 L677.74,263.79 L678.87,263.73 L680.00,263.66" fill="none" stroke="#00ffff" stroke-width="2.6" stroke-linecap="round" stroke-linejoin="round" stroke-dasharray="1.1 4.1" clip-path="url(#clipd)"/>
<path d="M422.3,405.6 V412.1 M421.5,405.6 h1.6" stroke="#e00000" stroke-width="0.8" fill="none"/>
<path d="M422.3,412.1 V418.6 M421.5,418.6 h1.6" stroke="#e00000" stroke-width="0.8" fill="none"/>
<path d="M432.6,386.0 V390.7 M431.8,386.0 h1.6" stroke="#e00000" stroke-width="0.8" fill="none"/>
<path d="M442.1,367.0 V371.7 M441.3,367.0 h1.6" stroke="#e00000" stroke-width="0.8" fill="none"/>
<path d="M451.2,347.2 V351.9 M450.4,347.2 h1.6" stroke="#e00000" stroke-width="0.8" fill="none"/>
<path d="M459.5,330.8 V335.5 M458.7,330.8 h1.6" stroke="#e00000" stroke-width="0.8" fill="none"/>
<path d="M471.3,317.7 V322.4 M470.5,317.7 h1.6" stroke="#e00000" stroke-width="0.8" fill="none"/>
<path d="M479.5,307.9 V312.6 M478.7,307.9 h1.6" stroke="#e00000" stroke-width="0.8" fill="none"/>
<path d="M490.3,298.4 V303.1 M489.5,298.4 h1.6" stroke="#e00000" stroke-width="0.8" fill="none"/>
<path d="M499.3,295.8 V300.5 M498.5,295.8 h1.6" stroke="#e00000" stroke-width="0.8" fill="none"/>
<path d="M508.0,289.6 V294.3 M507.2,289.6 h1.6" stroke="#e00000" stroke-width="0.8" fill="none"/>
<path d="M517.6,286.1 V290.8 M516.8,286.1 h1.6" stroke="#e00000" stroke-width="0.8" fill="none"/>
<path d="M527.9,283.2 V287.9 M527.1,283.2 h1.6" stroke="#e00000" stroke-width="0.8" fill="none"/>
<path d="M538.6,280.0 V284.7 M537.8,280.0 h1.6" stroke="#e00000" stroke-width="0.8" fill="none"/>
<path d="M547.1,278.9 V283.6 M546.3,278.9 h1.6" stroke="#e00000" stroke-width="0.8" fill="none"/>
<path d="M556.4,276.4 V281.1 M555.6,276.4 h1.6" stroke="#e00000" stroke-width="0.8" fill="none"/>
<path d="M566.6,273.4 V278.1 M565.8,273.4 h1.6" stroke="#e00000" stroke-width="0.8" fill="none"/>
<path d="M574.4,273.6 V278.3 M573.6,273.6 h1.6" stroke="#e00000" stroke-width="0.8" fill="none"/>
<path d="M584.8,271.6 V276.3 M584.0,271.6 h1.6" stroke="#e00000" stroke-width="0.8" fill="none"/>
<path d="M594.3,269.0 V273.7 M593.5,269.0 h1.6" stroke="#e00000" stroke-width="0.8" fill="none"/>
<path d="M614.4,268.0 V272.7 M613.6,268.0 h1.6" stroke="#e00000" stroke-width="0.8" fill="none"/>
<path d="M633.3,266.3 V271.0 M632.5,266.3 h1.6" stroke="#e00000" stroke-width="0.8" fill="none"/>
<path d="M650.9,263.7 V268.4 M650.1,263.7 h1.6" stroke="#e00000" stroke-width="0.8" fill="none"/>
<rect x="37.10" y="208.80" width="3.8" height="3.8" fill="#000"/>
<text x="39.00" y="223.10" font-size="9.75" text-anchor="middle" stroke="#000" stroke-width="0.25">40</text>
<rect x="69.66" y="208.80" width="3.8" height="3.8" fill="#000"/>
<text x="71.56" y="223.10" font-size="9.75" text-anchor="middle" stroke="#000" stroke-width="0.25">42</text>
<rect x="102.21" y="208.80" width="3.8" height="3.8" fill="#000"/>
<text x="104.11" y="223.10" font-size="9.75" text-anchor="middle" stroke="#000" stroke-width="0.25">44</text>
<rect x="134.77" y="208.80" width="3.8" height="3.8" fill="#000"/>
<text x="136.67" y="223.10" font-size="9.75" text-anchor="middle" stroke="#000" stroke-width="0.25">46</text>
<rect x="167.32" y="208.80" width="3.8" height="3.8" fill="#000"/>
<text x="169.22" y="223.10" font-size="9.75" text-anchor="middle" stroke="#000" stroke-width="0.25">48</text>
<rect x="199.88" y="208.80" width="3.8" height="3.8" fill="#000"/>
<text x="201.78" y="223.10" font-size="9.75" text-anchor="middle" stroke="#000" stroke-width="0.25">50</text>
<rect x="232.43" y="208.80" width="3.8" height="3.8" fill="#000"/>
<text x="234.33" y="223.10" font-size="9.75" text-anchor="middle" stroke="#000" stroke-width="0.25">52</text>
<rect x="264.99" y="208.80" width="3.8" height="3.8" fill="#000"/>
<text x="266.89" y="223.10" font-size="9.75" text-anchor="middle" stroke="#000" stroke-width="0.25">54</text>
<rect x="297.54" y="208.80" width="3.8" height="3.8" fill="#000"/>
<text x="299.44" y="223.10" font-size="9.75" text-anchor="middle" stroke="#000" stroke-width="0.25">56</text>
<rect x="330.10" y="208.80" width="3.8" height="3.8" fill="#000"/>
<text x="332.00" y="223.10" font-size="9.75" text-anchor="middle" stroke="#000" stroke-width="0.25">58</text>
<rect x="35.10" y="2.00" width="3.8" height="3.8" fill="#000"/>
<text x="32.10" y="6.40" font-size="9.0" text-anchor="end" stroke="#000" stroke-width="0.25">1000</text>
<rect x="35.10" y="36.15" width="3.8" height="3.8" fill="#000"/>
<text x="32.10" y="40.55" font-size="9.0" text-anchor="end" stroke="#000" stroke-width="0.25">100</text>
<rect x="35.10" y="70.30" width="3.8" height="3.8" fill="#000"/>
<text x="32.10" y="74.70" font-size="9.0" text-anchor="end" stroke="#000" stroke-width="0.25">10</text>
<rect x="35.10" y="104.45" width="3.8" height="3.8" fill="#000"/>
<text x="32.10" y="108.85" font-size="9.0" text-anchor="end" stroke="#000" stroke-width="0.25">1</text>
<rect x="35.10" y="138.60" width="3.8" height="3.8" fill="#000"/>
<text x="32.10" y="143.00" font-size="9.0" text-anchor="end" stroke="#000" stroke-width="0.25">0.1</text>
<rect x="35.10" y="172.75" width="3.8" height="3.8" fill="#000"/>
<text x="32.10" y="177.15" font-size="9.0" text-anchor="end" stroke="#000" stroke-width="0.25">0.01</text>
<rect x="35.10" y="206.90" width="3.8" height="3.8" fill="#000"/>
<text x="32.10" y="211.30" font-size="9.0" text-anchor="end" stroke="#000" stroke-width="0.25">0.001</text>
<rect x="39.00" y="3.90" width="293.00" height="204.90" fill="none" stroke="#000" stroke-width="3.8"/>
<text x="44.30" y="21.70" font-size="13" stroke="#000" stroke-width="0.3">(a)</text>
<rect x="385.30" y="208.80" width="3.8" height="3.8" fill="#000"/>
<text x="387.20" y="223.10" font-size="9.75" text-anchor="middle" stroke="#000" stroke-width="0.25">40</text>
<rect x="417.83" y="208.80" width="3.8" height="3.8" fill="#000"/>
<text x="419.73" y="223.10" font-size="9.75" text-anchor="middle" stroke="#000" stroke-width="0.25">42</text>
<rect x="450.37" y="208.80" width="3.8" height="3.8" fill="#000"/>
<text x="452.27" y="223.10" font-size="9.75" text-anchor="middle" stroke="#000" stroke-width="0.25">44</text>
<rect x="482.90" y="208.80" width="3.8" height="3.8" fill="#000"/>
<text x="484.80" y="223.10" font-size="9.75" text-anchor="middle" stroke="#000" stroke-width="0.25">46</text>
<rect x="515.43" y="208.80" width="3.8" height="3.8" fill="#000"/>
<text x="517.33" y="223.10" font-size="9.75" text-anchor="middle" stroke="#000" stroke-width="0.25">48</text>
<rect x="547.97" y="208.80" width="3.8" height="3.8" fill="#000"/>
<text x="549.87" y="223.10" font-size="9.75" text-anchor="middle" stroke="#000" stroke-width="0.25">50</text>
<rect x="580.50" y="208.80" width="3.8" height="3.8" fill="#000"/>
<text x="582.40" y="223.10" font-size="9.75" text-anchor="middle" stroke="#000" stroke-width="0.25">52</text>
<rect x="613.03" y="208.80" width="3.8" height="3.8" fill="#000"/>
<text x="614.93" y="223.10" font-size="9.75" text-anchor="middle" stroke="#000" stroke-width="0.25">54</text>
<rect x="645.57" y="208.80" width="3.8" height="3.8" fill="#000"/>
<text x="647.47" y="223.10" font-size="9.75" text-anchor="middle" stroke="#000" stroke-width="0.25">56</text>
<rect x="678.10" y="208.80" width="3.8" height="3.8" fill="#000"/>
<text x="680.00" y="223.10" font-size="9.75" text-anchor="middle" stroke="#000" stroke-width="0.25">58</text>
<rect x="383.30" y="2.00" width="3.8" height="3.8" fill="#000"/>
<text x="380.30" y="6.40" font-size="9.0" text-anchor="end" stroke="#000" stroke-width="0.25">1000</text>
<rect x="383.30" y="36.15" width="3.8" height="3.8" fill="#000"/>
<text x="380.30" y="40.55" font-size="9.0" text-anchor="end" stroke="#000" stroke-width="0.25">100</text>
<rect x="383.30" y="70.30" width="3.8" height="3.8" fill="#000"/>
<text x="380.30" y="74.70" font-size="9.0" text-anchor="end" stroke="#000" stroke-width="0.25">10</text>
<rect x="383.30" y="104.45" width="3.8" height="3.8" fill="#000"/>
<text x="380.30" y="108.85" font-size="9.0" text-anchor="end" stroke="#000" stroke-width="0.25">1</text>
<rect x="383.30" y="138.60" width="3.8" height="3.8" fill="#000"/>
<text x="380.30" y="143.00" font-size="9.0" text-anchor="end" stroke="#000" stroke-width="0.25">0.1</text>
<rect x="383.30" y="172.75" width="3.8" height="3.8" fill="#000"/>
<text x="380.30" y="177.15" font-size="9.0" text-anchor="end" stroke="#000" stroke-width="0.25">0.01</text>
<rect x="383.30" y="206.90" width="3.8" height="3.8" fill="#000"/>
<text x="380.30" y="211.30" font-size="9.0" text-anchor="end" stroke="#000" stroke-width="0.25">0.001</text>
<rect x="387.20" y="3.90" width="292.80" height="204.90" fill="none" stroke="#000" stroke-width="3.8"/>
<text x="392.50" y="21.70" font-size="13" stroke="#000" stroke-width="0.3">(c)</text>
<rect x="37.10" y="462.00" width="3.8" height="3.8" fill="#000"/>
<text x="39.00" y="476.30" font-size="9.75" text-anchor="middle" stroke="#000" stroke-width="0.25">42</text>
<rect x="69.66" y="462.00" width="3.8" height="3.8" fill="#000"/>
<text x="71.56" y="476.30" font-size="9.75" text-anchor="middle" stroke="#000" stroke-width="0.25">44</text>
<rect x="102.21" y="462.00" width="3.8" height="3.8" fill="#000"/>
<text x="104.11" y="476.30" font-size="9.75" text-anchor="middle" stroke="#000" stroke-width="0.25">46</text>
<rect x="134.77" y="462.00" width="3.8" height="3.8" fill="#000"/>
<text x="136.67" y="476.30" font-size="9.75" text-anchor="middle" stroke="#000" stroke-width="0.25">48</text>
<rect x="167.32" y="462.00" width="3.8" height="3.8" fill="#000"/>
<text x="169.22" y="476.30" font-size="9.75" text-anchor="middle" stroke="#000" stroke-width="0.25">50</text>
<rect x="199.88" y="462.00" width="3.8" height="3.8" fill="#000"/>
<text x="201.78" y="476.30" font-size="9.75" text-anchor="middle" stroke="#000" stroke-width="0.25">52</text>
<rect x="232.43" y="462.00" width="3.8" height="3.8" fill="#000"/>
<text x="234.33" y="476.30" font-size="9.75" text-anchor="middle" stroke="#000" stroke-width="0.25">54</text>
<rect x="264.99" y="462.00" width="3.8" height="3.8" fill="#000"/>
<text x="266.89" y="476.30" font-size="9.75" text-anchor="middle" stroke="#000" stroke-width="0.25">56</text>
<rect x="297.54" y="462.00" width="3.8" height="3.8" fill="#000"/>
<text x="299.44" y="476.30" font-size="9.75" text-anchor="middle" stroke="#000" stroke-width="0.25">58</text>
<rect x="330.10" y="462.00" width="3.8" height="3.8" fill="#000"/>
<text x="332.00" y="476.30" font-size="9.75" text-anchor="middle" stroke="#000" stroke-width="0.25">60</text>
<rect x="35.10" y="255.30" width="3.8" height="3.8" fill="#000"/>
<text x="32.10" y="259.70" font-size="9.0" text-anchor="end" stroke="#000" stroke-width="0.25">1000</text>
<rect x="35.10" y="289.43" width="3.8" height="3.8" fill="#000"/>
<text x="32.10" y="293.83" font-size="9.0" text-anchor="end" stroke="#000" stroke-width="0.25">100</text>
<rect x="35.10" y="323.57" width="3.8" height="3.8" fill="#000"/>
<text x="32.10" y="327.97" font-size="9.0" text-anchor="end" stroke="#000" stroke-width="0.25">10</text>
<rect x="35.10" y="357.70" width="3.8" height="3.8" fill="#000"/>
<text x="32.10" y="362.10" font-size="9.0" text-anchor="end" stroke="#000" stroke-width="0.25">1</text>
<rect x="35.10" y="391.83" width="3.8" height="3.8" fill="#000"/>
<text x="32.10" y="396.23" font-size="9.0" text-anchor="end" stroke="#000" stroke-width="0.25">0.1</text>
<rect x="35.10" y="425.97" width="3.8" height="3.8" fill="#000"/>
<text x="32.10" y="430.37" font-size="9.0" text-anchor="end" stroke="#000" stroke-width="0.25">0.01</text>
<rect x="35.10" y="460.10" width="3.8" height="3.8" fill="#000"/>
<text x="32.10" y="464.50" font-size="9.0" text-anchor="end" stroke="#000" stroke-width="0.25">0.001</text>
<rect x="39.00" y="257.20" width="293.00" height="204.80" fill="none" stroke="#000" stroke-width="3.8"/>
<text x="44.30" y="275.00" font-size="13" stroke="#000" stroke-width="0.3">(b)</text>
<rect x="385.40" y="462.10" width="3.8" height="3.8" fill="#000"/>
<text x="387.30" y="476.40" font-size="9.75" text-anchor="middle" stroke="#000" stroke-width="0.25">42</text>
<rect x="417.92" y="462.10" width="3.8" height="3.8" fill="#000"/>
<text x="419.82" y="476.40" font-size="9.75" text-anchor="middle" stroke="#000" stroke-width="0.25">44</text>
<rect x="450.44" y="462.10" width="3.8" height="3.8" fill="#000"/>
<text x="452.34" y="476.40" font-size="9.75" text-anchor="middle" stroke="#000" stroke-width="0.25">46</text>
<rect x="482.97" y="462.10" width="3.8" height="3.8" fill="#000"/>
<text x="484.87" y="476.40" font-size="9.75" text-anchor="middle" stroke="#000" stroke-width="0.25">48</text>
<rect x="515.49" y="462.10" width="3.8" height="3.8" fill="#000"/>
<text x="517.39" y="476.40" font-size="9.75" text-anchor="middle" stroke="#000" stroke-width="0.25">50</text>
<rect x="548.01" y="462.10" width="3.8" height="3.8" fill="#000"/>
<text x="549.91" y="476.40" font-size="9.75" text-anchor="middle" stroke="#000" stroke-width="0.25">52</text>
<rect x="580.53" y="462.10" width="3.8" height="3.8" fill="#000"/>
<text x="582.43" y="476.40" font-size="9.75" text-anchor="middle" stroke="#000" stroke-width="0.25">54</text>
<rect x="613.06" y="462.10" width="3.8" height="3.8" fill="#000"/>
<text x="614.96" y="476.40" font-size="9.75" text-anchor="middle" stroke="#000" stroke-width="0.25">56</text>
<rect x="645.58" y="462.10" width="3.8" height="3.8" fill="#000"/>
<text x="647.48" y="476.40" font-size="9.75" text-anchor="middle" stroke="#000" stroke-width="0.25">58</text>
<rect x="678.10" y="462.10" width="3.8" height="3.8" fill="#000"/>
<text x="680.00" y="476.40" font-size="9.75" text-anchor="middle" stroke="#000" stroke-width="0.25">60</text>
<rect x="383.40" y="255.40" width="3.8" height="3.8" fill="#000"/>
<text x="380.40" y="259.80" font-size="9.0" text-anchor="end" stroke="#000" stroke-width="0.25">1000</text>
<rect x="383.40" y="289.53" width="3.8" height="3.8" fill="#000"/>
<text x="380.40" y="293.93" font-size="9.0" text-anchor="end" stroke="#000" stroke-width="0.25">100</text>
<rect x="383.40" y="323.67" width="3.8" height="3.8" fill="#000"/>
<text x="380.40" y="328.07" font-size="9.0" text-anchor="end" stroke="#000" stroke-width="0.25">10</text>
<rect x="383.40" y="357.80" width="3.8" height="3.8" fill="#000"/>
<text x="380.40" y="362.20" font-size="9.0" text-anchor="end" stroke="#000" stroke-width="0.25">1</text>
<rect x="383.40" y="391.93" width="3.8" height="3.8" fill="#000"/>
<text x="380.40" y="396.33" font-size="9.0" text-anchor="end" stroke="#000" stroke-width="0.25">0.1</text>
<rect x="383.40" y="426.07" width="3.8" height="3.8" fill="#000"/>
<text x="380.40" y="430.47" font-size="9.0" text-anchor="end" stroke="#000" stroke-width="0.25">0.01</text>
<rect x="383.40" y="460.20" width="3.8" height="3.8" fill="#000"/>
<text x="380.40" y="464.60" font-size="9.0" text-anchor="end" stroke="#000" stroke-width="0.25">0.001</text>
<rect x="387.30" y="257.30" width="292.70" height="204.80" fill="none" stroke="#000" stroke-width="3.8"/>
<text x="392.60" y="275.10" font-size="13" stroke="#000" stroke-width="0.3">(d)</text>
<text x="147.0" y="241.7" font-size="13" fill="#ff0000" stroke="#ff0000" stroke-width="0.3">E<tspan font-size="9" dy="3.9">c.m.</tspan><tspan dy="-3.9"> (MeV)</tspan></text>
<g transform="translate(12.0,131.6) rotate(-90)" fill="#ff0000"><text x="0" y="0" font-size="12.5" style="font-weight:normal" stroke="#ff0000" stroke-width="0.35">σ</text><text x="7.9" y="3.1" font-size="9" stroke="#ff0000" stroke-width="0.25">F</text><text x="17.6" y="-0.2" font-size="13.8" stroke="#ff0000" stroke-width="0.3">(mb)</text></g>
<text x="500.2" y="242.9" font-size="13" fill="#ff0000" stroke="#ff0000" stroke-width="0.3">E<tspan font-size="9" dy="3.9">c.m.</tspan><tspan dy="-3.9"> (MeV)</tspan></text>
<g transform="translate(351.4,129.6) rotate(-90)" fill="#ff0000"><text x="0" y="0" font-size="12.5" style="font-weight:normal" stroke="#ff0000" stroke-width="0.35">σ</text><text x="7.9" y="3.1" font-size="9" stroke="#ff0000" stroke-width="0.25">F</text><text x="17.6" y="-0.2" font-size="13.8" stroke="#ff0000" stroke-width="0.3">(mb)</text></g>
<text x="152.2" y="493.5" font-size="13" fill="#ff0000" stroke="#ff0000" stroke-width="0.3">E<tspan font-size="9" dy="3.9">c.m.</tspan><tspan dy="-3.9"> (MeV)</tspan></text>
<g transform="translate(10.8,382.8) rotate(-90)" fill="#ff0000"><text x="0" y="0" font-size="12.5" style="font-weight:normal" stroke="#ff0000" stroke-width="0.35">σ</text><text x="7.9" y="3.1" font-size="9" stroke="#ff0000" stroke-width="0.25">F</text><text x="17.6" y="-0.2" font-size="13.8" stroke="#ff0000" stroke-width="0.3">(mb)</text></g>
<text x="500.2" y="493.6" font-size="13" fill="#ff0000" stroke="#ff0000" stroke-width="0.3">E<tspan font-size="9" dy="3.9">c.m.</tspan><tspan dy="-3.9"> (MeV)</tspan></text>
<g transform="translate(351.0,383.1) rotate(-90)" fill="#ff0000"><text x="0" y="0" font-size="12.5" style="font-weight:normal" stroke="#ff0000" stroke-width="0.35">σ</text><text x="7.9" y="3.1" font-size="9" stroke="#ff0000" stroke-width="0.25">F</text><text x="17.6" y="-0.2" font-size="13.8" stroke="#ff0000" stroke-width="0.3">(mb)</text></g>
<polygon points="149.20,140.30 150.73,144.39 155.10,144.58 151.68,147.30 152.84,151.52 149.20,149.10 145.56,151.52 146.72,147.30 143.30,144.58 147.67,144.39" fill="#008000"/>
<text x="162.6" y="149.8" font-size="9.35" stroke="#000" stroke-width="0.3"><tspan font-size="5.9" dy="-3.4">36</tspan><tspan dy="3.4">S + </tspan><tspan font-size="5.9" dy="-3.4">50</tspan><tspan dy="3.4">Ti</tspan></text>
<line x1="138.4" y1="158.2" x2="159" y2="158.2" stroke="#ff0000" stroke-width="3" stroke-linecap="round" stroke-dasharray="0 6.7"/>
<line x1="138.5" y1="171.5" x2="161" y2="171.5" stroke="#ff00ff" stroke-width="2.5" stroke-linecap="round" stroke-dasharray="1.2 3.9"/>
<line x1="138.5" y1="185.3" x2="161" y2="185.3" stroke="#0000ff" stroke-width="2.5" stroke-linecap="round" stroke-dasharray="5 4.5 0 4.5"/>
<line x1="137.2" y1="198.9" x2="161" y2="198.9" stroke="#000" stroke-width="2.7" stroke-linecap="butt"/>
<text x="162.9" y="161.7" font-size="9.35" stroke="#000" stroke-width="0.3">No coupling</text>
<text x="162.9" y="175.1" font-size="9.35" stroke="#000" stroke-width="0.3">One Phonon 2<tspan font-size="5.9" dy="-3.4">+</tspan><tspan dy="3.4">(T)</tspan></text>
<text x="162.9" y="188.3" font-size="9.35" stroke="#000" stroke-width="0.3">One Phonon 2<tspan font-size="5.9" dy="-3.4">+</tspan><tspan dy="3.4">(P)</tspan></text>
<text x="162.9" y="201.8" font-size="9.35" stroke="#000" stroke-width="0.3">One Phonon 2<tspan font-size="5.9" dy="-3.4">+</tspan><tspan dy="3.4">(P), two Phonon 2<tspan font-size="5.9" dy="-3.4">+</tspan><tspan dy="3.4">(T)</tspan></text>
<polygon points="549.30,154.60 550.83,158.69 555.20,158.88 551.78,161.60 552.94,165.82 549.30,163.40 545.66,165.82 546.82,161.60 543.40,158.88 547.77,158.69" fill="#008000"/>
<text x="562.7" y="163.8" font-size="9.35" stroke="#000" stroke-width="0.3"><tspan font-size="5.9" dy="-3.4">36</tspan><tspan dy="3.4">S + </tspan><tspan font-size="5.9" dy="-3.4">50</tspan><tspan dy="3.4">Ti</tspan></text>
<line x1="538.5" y1="172.6" x2="561" y2="172.6" stroke="#0000ff" stroke-width="0.9" stroke-linecap="butt"/>
<line x1="538.5" y1="172.6" x2="561" y2="172.6" stroke="#0000ff" stroke-width="2.6" stroke-linecap="round" stroke-dasharray="0 3.0"/>
<line x1="538.5" y1="184.9" x2="561" y2="184.9" stroke="#000" stroke-width="2.6" stroke-linecap="round" stroke-dasharray="1.3 3.8"/>
<line x1="537.3" y1="196.6" x2="561.1" y2="196.6" stroke="#ff0000" stroke-width="2.9" stroke-linecap="butt"/>
<text x="562.9" y="175.7" font-size="9.35" stroke="#000" stroke-width="0.3">No coupling calculations</text>
<text x="562.9" y="187.6" font-size="9.35" stroke="#000" stroke-width="0.3">CCFULL calculations</text>
<text x="562.9" y="199.4" font-size="9.35" stroke="#000" stroke-width="0.3">SAGBD calculations</text>
<circle cx="148.00" cy="399.60" r="4.3" fill="url(#rb)"/>
<text x="161.3" y="402.7" font-size="9.35" stroke="#000" stroke-width="0.3"><tspan font-size="5.9" dy="-3.4">36</tspan><tspan dy="3.4">S + </tspan><tspan font-size="5.9" dy="-3.4">51</tspan><tspan dy="3.4">V</tspan></text>
<line x1="137.3" y1="411.5" x2="159.5" y2="411.5" stroke="#000" stroke-width="0.9" stroke-linecap="butt"/>
<line x1="137.3" y1="411.5" x2="159.6" y2="411.5" stroke="#000" stroke-width="2.5" stroke-linecap="round" stroke-dasharray="0 3.1"/>
<line x1="137.5" y1="424.7" x2="160" y2="424.7" stroke="#0000ff" stroke-width="2.5" stroke-linecap="round" stroke-dasharray="1.1 4.1"/>
<line x1="137.5" y1="438.4" x2="160" y2="438.4" stroke="#008000" stroke-width="2.5" stroke-linecap="round" stroke-dasharray="3.2 4.7 0 4.2 0 4.6"/>
<line x1="136.1" y1="451.5" x2="160" y2="451.5" stroke="#00ffff" stroke-width="3.0" stroke-linecap="butt"/>
<text x="161.7" y="415.1" font-size="9.35" stroke="#000" stroke-width="0.3">No coupling</text>
<text x="161.7" y="428.3" font-size="9.35" stroke="#000" stroke-width="0.3">One Phonon 2<tspan font-size="5.9" dy="-3.4">+</tspan><tspan dy="3.4">(T)</tspan></text>
<text x="161.7" y="441.6" font-size="9.35" stroke="#000" stroke-width="0.3">One Phonon 2<tspan font-size="5.9" dy="-3.4">+</tspan><tspan dy="3.4">(P)</tspan></text>
<text x="161.7" y="455.0" font-size="9.35" stroke="#000" stroke-width="0.3">One Phonon 2<tspan font-size="5.9" dy="-3.4">+</tspan><tspan dy="3.4">(P), two Phonon 2<tspan font-size="5.9" dy="-3.4">+</tspan><tspan dy="3.4">(T)</tspan></text>
<circle cx="550.80" cy="414.10" r="4.3" fill="url(#rb)"/>
<text x="564.0" y="416.9" font-size="9.35" stroke="#000" stroke-width="0.3"><tspan font-size="5.9" dy="-3.4">36</tspan><tspan dy="3.4">S + </tspan><tspan font-size="5.9" dy="-3.4">51</tspan><tspan dy="3.4">V</tspan></text>
<line x1="540" y1="425.9" x2="561.5" y2="425.9" stroke="#0000ff" stroke-width="0.9" stroke-linecap="butt"/>
<line x1="540" y1="425.9" x2="561.5" y2="425.9" stroke="#0000ff" stroke-width="2.6" stroke-linecap="round" stroke-dasharray="0 3.0"/>
<line x1="540" y1="438" x2="561.5" y2="438" stroke="#00ffff" stroke-width="2.5" stroke-linecap="round" stroke-dasharray="1.1 4.1"/>
<line x1="538.9" y1="449.9" x2="562.4" y2="449.9" stroke="#2ca25f" stroke-width="2.6" stroke-linecap="butt"/>
<text x="564.6" y="428.8" font-size="9.35" stroke="#000" stroke-width="0.3">No coupling calculations</text>
<text x="564.6" y="440.9" font-size="9.35" stroke="#000" stroke-width="0.3">CCFULL calculations</text>
<text x="564.6" y="452.8" font-size="9.35" stroke="#000" stroke-width="0.3">SAGBD calculations</text>
</svg></body></html>
